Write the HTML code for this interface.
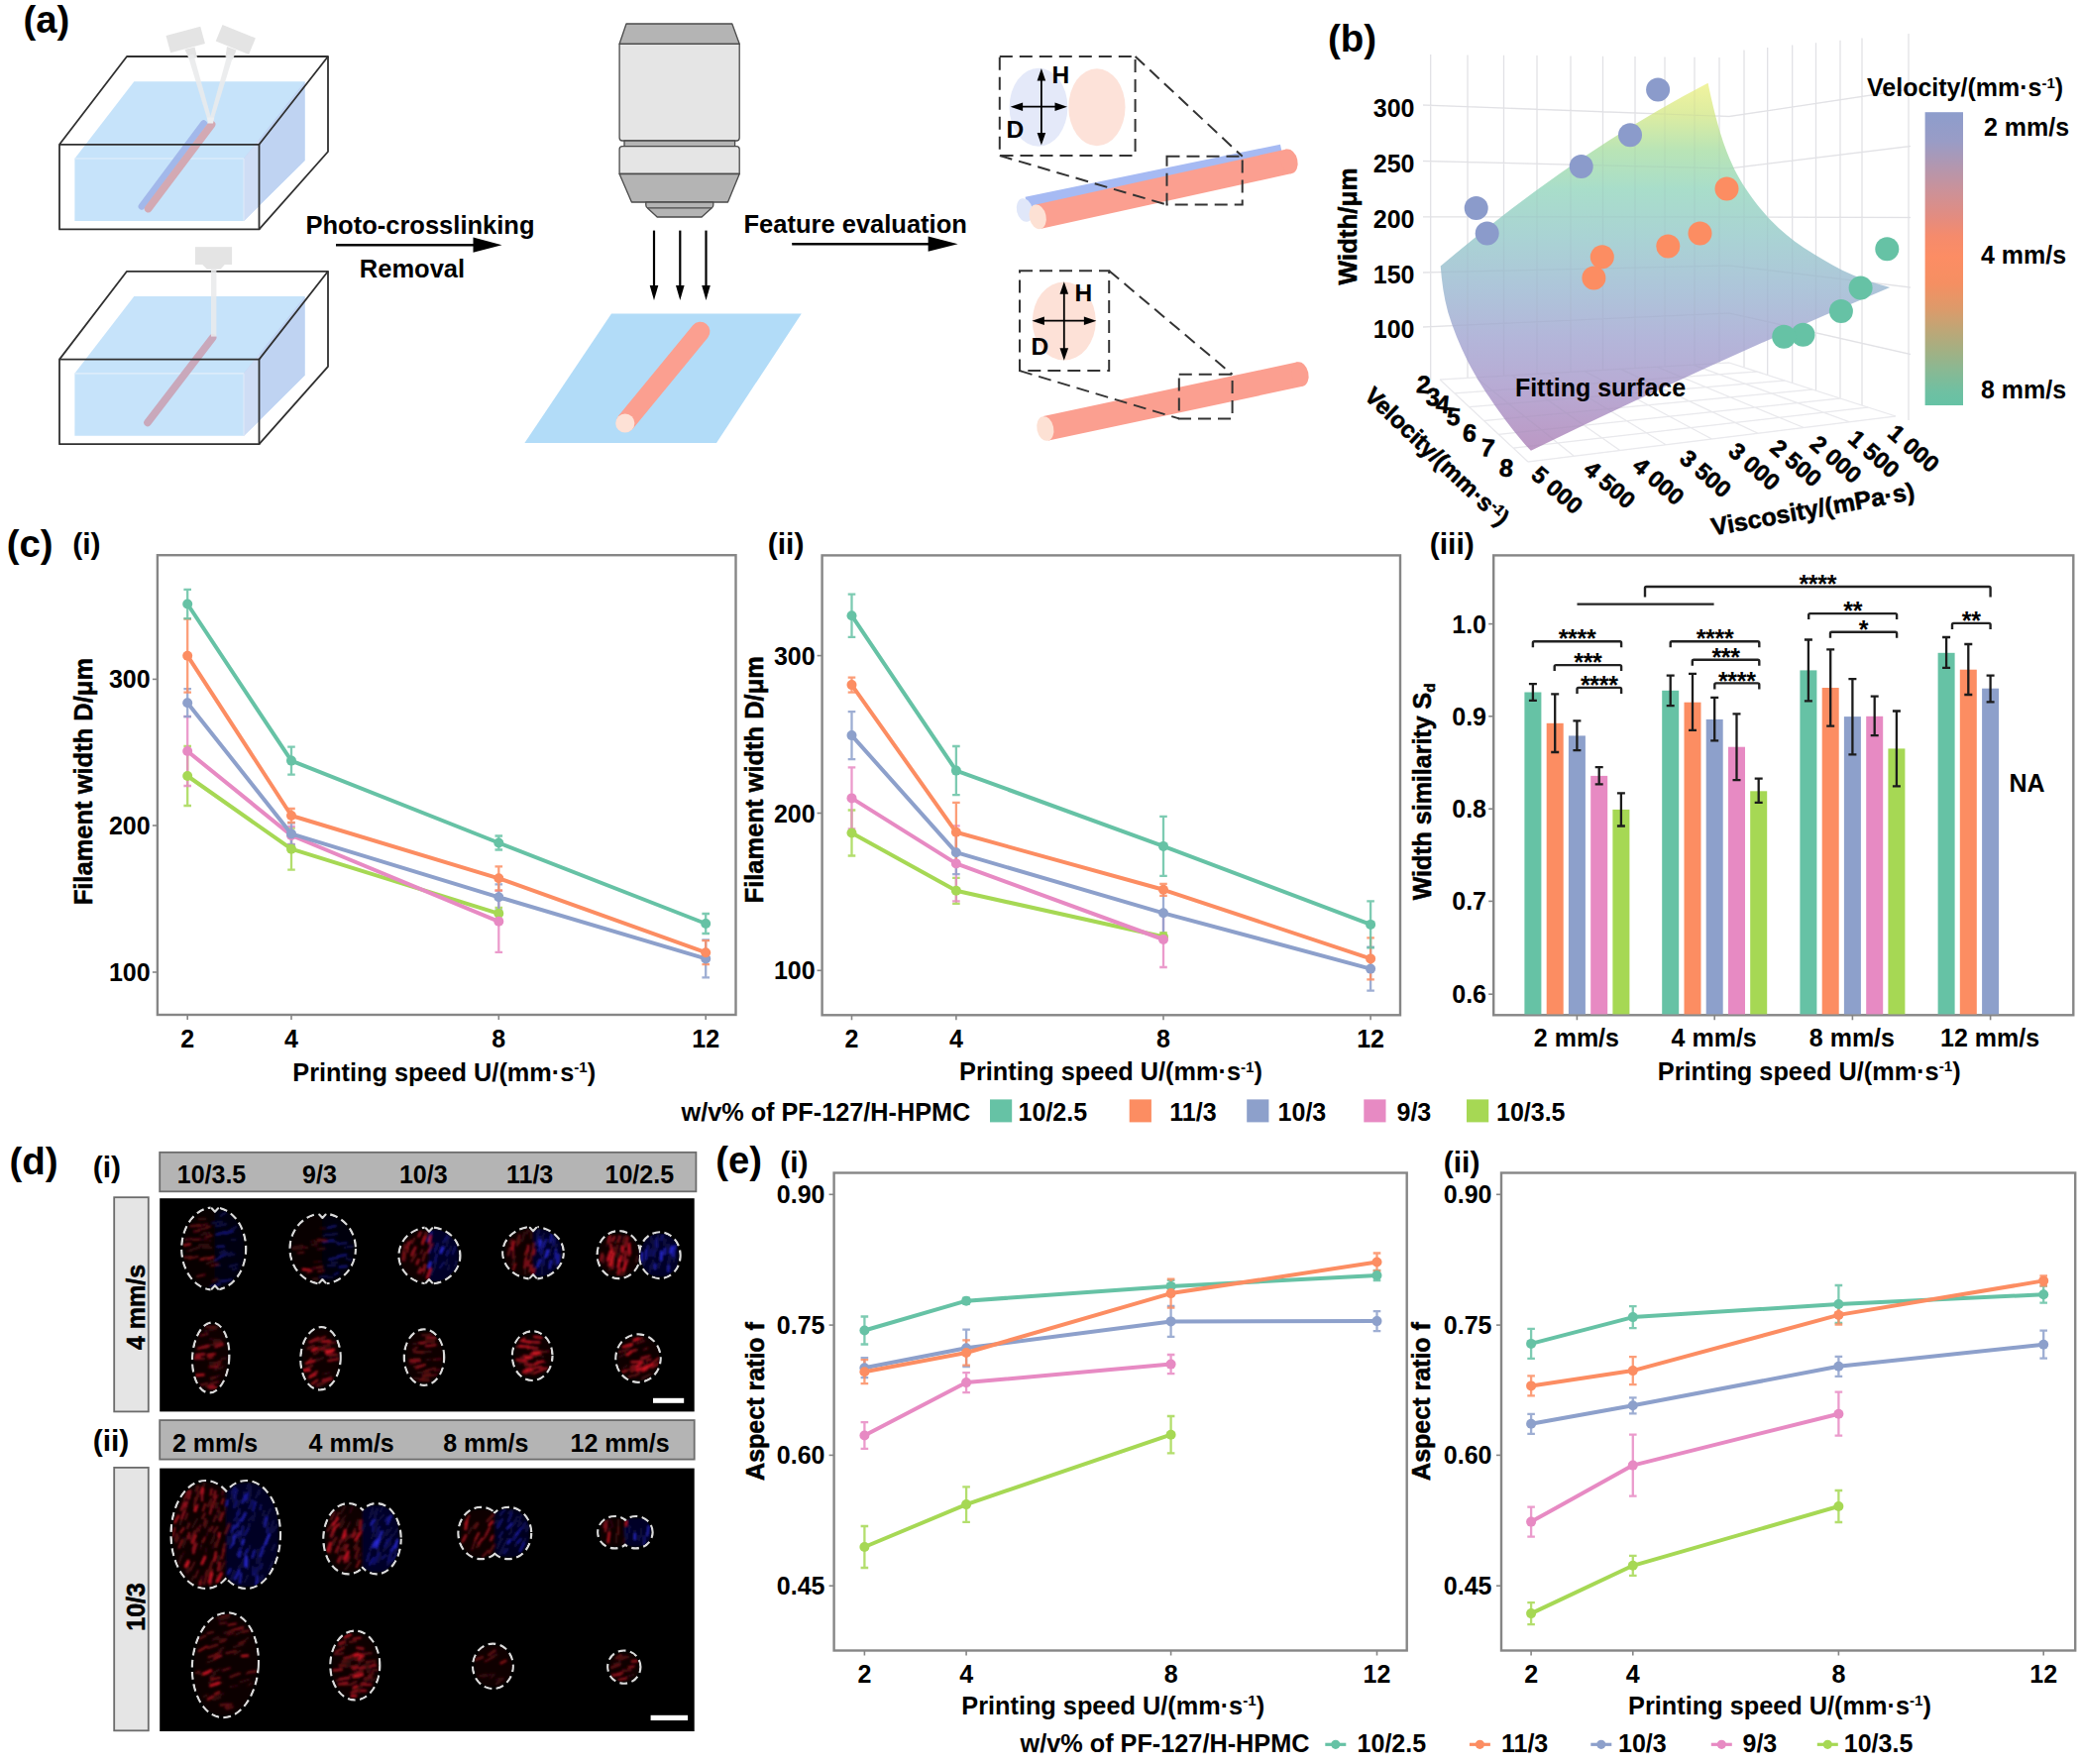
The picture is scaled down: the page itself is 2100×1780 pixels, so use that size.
<!DOCTYPE html>
<html><head><meta charset="utf-8"><title>Figure</title>
<style>
html,body{margin:0;padding:0;background:#fff}
svg{display:block}
text{font-family:"Liberation Sans",sans-serif;font-weight:bold;fill:#000}
</style></head><body>
<svg width="2100" height="1780" viewBox="0 0 2100 1780">
<rect width="2100" height="1780" fill="#fff"/>
<g id="panel-a">
<text x="23.4" y="32.8" font-size="38.3" text-anchor="start" >(a)</text>
<g transform="translate(0 0)">
<polygon points="75.4,160 135.3,82.3 307.6,82.3 307.6,162 246,223 75.4,223" fill="#c6e3fa"/>
<polygon points="246,160 307.6,82.3 307.6,162 246,223" fill="#bfd3f2"/>
<polygon points="246,160 261.5,140.5 261.5,207.6 246,223" fill="#cfddf5"/>
<line x1="75.4" y1="160" x2="246" y2="160" stroke="#e3effa" stroke-width="1.2"/>
<line x1="246" y1="160" x2="246" y2="223" stroke="#dde9f8" stroke-width="1.2"/>
<line x1="205.6" y1="124.6" x2="143" y2="208.2" stroke="#a2b8ea" stroke-width="6.8" stroke-linecap="round"/>
<line x1="213.6" y1="125.6" x2="149.6" y2="210.6" stroke="#d3a9b3" stroke-width="7.6" stroke-linecap="round"/>
<g fill="none" stroke="#303030" stroke-width="1.8" stroke-linejoin="round">
<rect x="60" y="145.8" width="201.5" height="85.6"/>
<polyline points="60,145.8 128,57 331,57 261.5,145.8"/>
<polyline points="331,57 331,153 261.5,231.4"/>
</g>
<g fill="#e4e4e4">
<rect x="-18" y="-9" width="36" height="18" transform="translate(187.2 40) rotate(-15)"/>
<rect x="-18" y="-9" width="36" height="18" transform="translate(237.8 40) rotate(22)"/>
<polygon points="186.5,50 196.5,47.5 199,58 191,60"/>
<polygon points="229,47 238.5,50.5 235,60 227.5,57.5"/>
</g>
<polygon points="189.6,56 195.2,54.6 213.2,119.5 209.6,121.5" fill="#e9eaec" opacity="0.88"/>
<polygon points="229.6,54.6 235.4,56 215.2,121.5 211.8,119.5" fill="#e9eaec" opacity="0.88"/>
<polygon points="208.8,118.5 216.2,118.5 215,124.5 210,124.5" fill="#eceef0"/>
</g>
<g transform="translate(0 216.8)">
<polygon points="75.4,160 135.3,82.3 307.6,82.3 307.6,162 246,223 75.4,223" fill="#c6e3fa"/>
<polygon points="246,160 307.6,82.3 307.6,162 246,223" fill="#bfd3f2"/>
<polygon points="246,160 261.5,140.5 261.5,207.6 246,223" fill="#cfddf5"/>
<line x1="75.4" y1="160" x2="246" y2="160" stroke="#e3effa" stroke-width="1.2"/>
<line x1="246" y1="160" x2="246" y2="223" stroke="#dde9f8" stroke-width="1.2"/>
<line x1="214.6" y1="124" x2="149" y2="209.6" stroke="#c9a8bb" stroke-width="7.6" stroke-linecap="round"/>
<g fill="none" stroke="#303030" stroke-width="1.8" stroke-linejoin="round">
<rect x="60" y="145.8" width="201.5" height="85.6"/>
<polyline points="60,145.8 128,57 331,57 261.5,145.8"/>
<polyline points="331,57 331,153 261.5,231.4"/>
</g>
<g fill="#e4e4e4">
<rect x="196.9" y="32.4" width="37.2" height="17.8"/>
<polygon points="204,50 227,50 222.5,55 209,55"/>
</g>
<rect x="213" y="54.8" width="5.4" height="68" fill="#e9eaec" opacity="0.88"/>
</g>
<text x="424.0" y="235.6" font-size="25.5" text-anchor="middle" >Photo-crosslinking</text>
<text x="416.0" y="279.6" font-size="25.5" text-anchor="middle" >Removal</text>
<line x1="339" y1="247.2" x2="482" y2="247.2" stroke="#000" stroke-width="2.6"/>
<polygon points="477.5,239.6 506.5,247.2 477.5,254.8" fill="#000"/>
<g stroke="#4a4a4a" stroke-width="1.3" stroke-linejoin="round">
<polygon points="632,24 738.8,24 746.2,44.3 625.1,44.3" fill="#b4b4b4"/>
<path d="M625.1,44.3 H746.2 V139 Q746.2,142 743.2,142 H628.1 Q625.1,142 625.1,139 Z" fill="#e5e5e5"/>
<rect x="630" y="142" width="111.6" height="5.7" fill="#b4b4b4"/>
<path d="M628.1,147.7 H743.2 Q746.2,147.7 746.2,150.7 V175.5 H625.1 V150.7 Q625.1,147.7 628.1,147.7 Z" fill="#e5e5e5"/>
<polygon points="625.1,175.5 746.2,175.5 734.5,204 637.4,204" fill="#b4b4b4"/>
<path d="M651.8,204 H719.8 V207 Q719.8,209.5 717.5,210.5 L708.1,219 H663.2 L654,210.5 Q651.8,209.5 651.8,207 Z" fill="#b4b4b4"/>
<line x1="653" y1="209.8" x2="718.6" y2="209.8" fill="none"/>
</g>
<line x1="660" y1="232.6" x2="660" y2="292" stroke="#000" stroke-width="2.2"/>
<polygon points="655.7,288 664.3,288 660,303" fill="#000"/>
<line x1="686.3" y1="232.6" x2="686.3" y2="292" stroke="#000" stroke-width="2.2"/>
<polygon points="682.0,288 690.5999999999999,288 686.3,303" fill="#000"/>
<line x1="712.5" y1="232.6" x2="712.5" y2="292" stroke="#000" stroke-width="2.2"/>
<polygon points="708.2,288 716.8,288 712.5,303" fill="#000"/>
<polygon points="617,316.4 808.8,316.4 723,447 529.4,447" fill="#b2dcf8"/>
<line x1="706.7" y1="334.5" x2="631.5" y2="426" stroke="#fb9f90" stroke-width="19.5" stroke-linecap="round"/>
<circle cx="630.8" cy="427" r="9.6" fill="#fde1d6"/>
<text x="863.2" y="234.6" font-size="25.5" text-anchor="middle" >Feature evaluation</text>
<line x1="799.2" y1="246.2" x2="941" y2="246.2" stroke="#000" stroke-width="2.6"/>
<polygon points="936.6,238.6 966.6,246.2 936.6,253.8" fill="#000"/>
<ellipse cx="1048" cy="108.2" rx="29.4" ry="39.5" fill="#e4e9f9"/>
<ellipse cx="1106.9" cy="108.2" rx="28.6" ry="39" fill="#fde2d9"/>
<line x1="1050.9" y1="79.0" x2="1050.9" y2="136.6" stroke="#000" stroke-width="1.8"/>
<polygon points="1050.9,69.0 1046.6,81.5 1055.2,81.5" fill="#000"/>
<polygon points="1050.9,146.6 1046.6,134.1 1055.2,134.1" fill="#000"/>
<line x1="1029.6" y1="107.7" x2="1067.0" y2="107.7" stroke="#000" stroke-width="1.8"/>
<polygon points="1019.6,107.7 1032.1,112.0 1032.1,103.4" fill="#000"/>
<polygon points="1077.0,107.7 1064.5,112.0 1064.5,103.4" fill="#000"/>
<text x="1061.4" y="84.2" font-size="24.5" text-anchor="start" >H</text>
<text x="1015.6" y="139.0" font-size="24.5" text-anchor="start" >D</text>
<line x1="1037" y1="210.5" x2="1294.4" y2="157.4" stroke="#a6baf3" stroke-width="24" stroke-linecap="butt"/>
<ellipse cx="1034" cy="212" rx="8" ry="12" fill="#e0e7f9" transform="rotate(-13 1034 212)"/>
<line x1="1048" y1="218.6" x2="1301" y2="162.8" stroke="#fb9f90" stroke-width="25" stroke-linecap="butt"/>
<ellipse cx="1301" cy="162.8" rx="8.4" ry="12.5" fill="#fb9f90" transform="rotate(-12.5 1301 162.8)"/>
<ellipse cx="1047.2" cy="218.8" rx="8.4" ry="12.5" fill="#fde1d4" transform="rotate(-12.5 1047.2 218.8)"/>
<rect x="1008.8" y="56.9" width="136.8" height="100.1" fill="none" stroke="#333" stroke-width="2" stroke-dasharray="13 7"/>
<rect x="1177.5" y="157.8" width="76.2" height="48.8" fill="none" stroke="#333" stroke-width="2" stroke-dasharray="13 7"/>
<line x1="1145.6" y1="56.9" x2="1253.7" y2="157.8" fill="none" stroke="#333" stroke-width="2" stroke-dasharray="13 7"/>
<line x1="1008.8" y1="157" x2="1177.5" y2="206.6" fill="none" stroke="#333" stroke-width="2" stroke-dasharray="13 7"/>
<ellipse cx="1073.8" cy="324" rx="32" ry="39.5" fill="#fde1d7"/>
<line x1="1073.8" y1="294.3" x2="1073.8" y2="353.7" stroke="#000" stroke-width="1.8"/>
<polygon points="1073.8,284.3 1069.5,296.8 1078.1,296.8" fill="#000"/>
<polygon points="1073.8,363.7 1069.5,351.2 1078.1,351.2" fill="#000"/>
<line x1="1051.4" y1="323.7" x2="1096.4" y2="323.7" stroke="#000" stroke-width="1.8"/>
<polygon points="1041.4,323.7 1053.9,328.0 1053.9,319.4" fill="#000"/>
<polygon points="1106.4,323.7 1093.9,328.0 1093.9,319.4" fill="#000"/>
<text x="1084.4" y="303.9" font-size="24.5" text-anchor="start" >H</text>
<text x="1040.6" y="357.8" font-size="24.5" text-anchor="start" >D</text>
<line x1="1055.5" y1="432.3" x2="1312" y2="377.6" stroke="#fb9f90" stroke-width="25" stroke-linecap="butt"/>
<ellipse cx="1312" cy="377.6" rx="8.4" ry="12.5" fill="#fb9f90" transform="rotate(-12 1312 377.6)"/>
<ellipse cx="1054.8" cy="432.5" rx="8.4" ry="12.5" fill="#fde1d4" transform="rotate(-12 1054.8 432.5)"/>
<rect x="1029" y="273.2" width="90.2" height="100.9" fill="none" stroke="#333" stroke-width="2" stroke-dasharray="13 7"/>
<rect x="1189.8" y="377.8" width="53.8" height="44.6" fill="none" stroke="#333" stroke-width="2" stroke-dasharray="13 7"/>
<line x1="1119.2" y1="273.2" x2="1243.6" y2="377.8" fill="none" stroke="#333" stroke-width="2" stroke-dasharray="13 7"/>
<line x1="1029" y1="374.1" x2="1189.8" y2="422.4" fill="none" stroke="#333" stroke-width="2" stroke-dasharray="13 7"/>
</g>
<g id="panel-b">
<text x="1340.0" y="51.8" font-size="38.5" text-anchor="start" >(b)</text>
<defs>
<linearGradient id="surfg" gradientUnits="userSpaceOnUse" x1="0" y1="83" x2="0" y2="456">
<stop offset="0" stop-color="#f1f39a"/>
<stop offset="0.085" stop-color="#dcec9d"/>
<stop offset="0.185" stop-color="#b6e3b3"/>
<stop offset="0.29" stop-color="#a5dcc8"/>
<stop offset="0.42" stop-color="#a6d1d2"/>
<stop offset="0.555" stop-color="#aac3d8"/>
<stop offset="0.69" stop-color="#b0b3d8"/>
<stop offset="0.825" stop-color="#b5a7d2"/>
<stop offset="1" stop-color="#b993c1"/>
</linearGradient>
<linearGradient id="cbar" x1="0" y1="0" x2="0" y2="1">
<stop offset="0" stop-color="#8d9dcc"/>
<stop offset="0.1" stop-color="#999cc6"/>
<stop offset="0.259" stop-color="#c9929b"/>
<stop offset="0.358" stop-color="#e38c80"/>
<stop offset="0.422" stop-color="#f58b6c"/>
<stop offset="0.493" stop-color="#fc8d64"/>
<stop offset="0.585" stop-color="#f58f62"/>
<stop offset="0.67" stop-color="#dd9a6a"/>
<stop offset="0.741" stop-color="#bfa676"/>
<stop offset="0.812" stop-color="#a3b083"/>
<stop offset="0.883" stop-color="#88b994"/>
<stop offset="0.954" stop-color="#6fc0a2"/>
<stop offset="1" stop-color="#66c2a5"/>
</linearGradient>
</defs>
<path d="M1443.7,55.0L1443.7,383.5M1481.0,55.4L1481.0,381.4M1517.5,55.7L1517.5,379.3M1551.0,56.1L1551.0,377.3M1585.0,56.4L1585.0,375.3M1617.5,56.7L1617.5,373.5M1650.0,57.1L1650.0,371.6M1680.0,57.4L1680.0,369.8M1710.0,57.7L1710.0,368.1M1735.0,57.9L1735.0,366.6M1760.0,50.5L1760.0,370.8M1783.7,48.1L1783.7,378.4M1808.7,45.6L1808.7,386.4M1832.5,43.2L1832.5,394.0M1857.0,40.8L1857.0,401.8M1879.0,38.6L1879.0,408.9M1926.0,33.9L1926.0,423.9M1436.0,106.0L1745.0,117.5M1745.0,117.5L1928.0,90.0M1436.0,162.5L1745.0,170.0M1745.0,170.0L1928.0,147.5M1436.0,218.8L1745.0,219.0M1745.0,219.0L1928.0,219.5M1436.0,275.0L1745.0,268.0M1745.0,268.0L1928.0,290.0M1436.0,330.0L1745.0,316.0M1745.0,316.0L1928.0,357.5" fill="none" stroke="#ebebed" stroke-width="1.3"/>
<path d="M1453.0,383.0L1745.0,366.0M1467.8,396.8L1773.0,375.0M1482.7,410.7L1801.0,384.0M1497.5,424.5L1829.0,393.0M1512.3,438.3L1857.0,402.0M1527.2,452.2L1885.0,411.0M1542.0,466.0L1913.0,420.0M1542.0,466.0L1453.0,383.0M1588.4,460.2L1489.5,380.9M1634.8,454.5L1526.0,378.8M1681.1,448.8L1562.5,376.6M1727.5,443.0L1599.0,374.5M1773.9,437.2L1635.5,372.4M1820.2,431.5L1672.0,370.2M1866.6,425.8L1708.5,368.1M1913.0,420.0L1745.0,366.0" fill="none" stroke="#f3f3f5" stroke-width="1.3"/>
<path d="M1453.7,268.6 Q1588.7,153.7 1723.6,83.7 C1727,100 1733,128 1742.3,152.4 C1750,172 1756,182 1764.8,194.9 C1774,208 1783,219 1794.8,229.9 C1806,240 1818,249 1832.3,257.4 C1844,264.5 1856,271.5 1869.8,277.4 C1882,282.5 1894,286.5 1907.2,289.9 Q1726.1,366.3 1544.9,454.8 C1533,442 1522,428 1512.5,414.8 C1500,397 1490,382 1481.2,364.8 C1473,348 1466,331 1461.2,314.9 C1457,300 1455,285 1453.7,268.6 Z" fill="url(#surfg)" opacity="0.96"/>
<path d="M1443.7,55.0L1443.7,383.5M1481.0,55.4L1481.0,381.4M1517.5,55.7L1517.5,379.3M1551.0,56.1L1551.0,377.3M1585.0,56.4L1585.0,375.3M1617.5,56.7L1617.5,373.5M1650.0,57.1L1650.0,371.6M1680.0,57.4L1680.0,369.8M1710.0,57.7L1710.0,368.1M1735.0,57.9L1735.0,366.6M1760.0,50.5L1760.0,370.8M1783.7,48.1L1783.7,378.4M1808.7,45.6L1808.7,386.4M1832.5,43.2L1832.5,394.0M1857.0,40.8L1857.0,401.8M1879.0,38.6L1879.0,408.9M1926.0,33.9L1926.0,423.9M1436.0,106.0L1745.0,117.5M1745.0,117.5L1928.0,90.0M1436.0,162.5L1745.0,170.0M1745.0,170.0L1928.0,147.5M1436.0,218.8L1745.0,219.0M1745.0,219.0L1928.0,219.5M1436.0,275.0L1745.0,268.0M1745.0,268.0L1928.0,290.0M1436.0,330.0L1745.0,316.0M1745.0,316.0L1928.0,357.5M1453.0,383.0L1745.0,366.0M1467.8,396.8L1773.0,375.0M1482.7,410.7L1801.0,384.0M1497.5,424.5L1829.0,393.0M1512.3,438.3L1857.0,402.0M1527.2,452.2L1885.0,411.0M1542.0,466.0L1913.0,420.0M1542.0,466.0L1453.0,383.0M1588.4,460.2L1489.5,380.9M1634.8,454.5L1526.0,378.8M1681.1,448.8L1562.5,376.6M1727.5,443.0L1599.0,374.5M1773.9,437.2L1635.5,372.4M1820.2,431.5L1672.0,370.2M1866.6,425.8L1708.5,368.1M1913.0,420.0L1745.0,366.0" fill="none" stroke="#8088a0" stroke-width="1.2" opacity="0.09"/>
<circle cx="1673.1" cy="90.6" r="12" fill="#8b9bcb"/>
<circle cx="1645" cy="136.2" r="12" fill="#8b9bcb"/>
<circle cx="1595.7" cy="168" r="12" fill="#8b9bcb"/>
<circle cx="1489.7" cy="210" r="12" fill="#8b9bcb"/>
<circle cx="1500.7" cy="235.6" r="12" fill="#8b9bcb"/>
<circle cx="1742.5" cy="190.6" r="12" fill="#fc8d62"/>
<circle cx="1715.5" cy="235.6" r="12" fill="#fc8d62"/>
<circle cx="1683.3" cy="248.4" r="12" fill="#fc8d62"/>
<circle cx="1616.8" cy="259.3" r="12" fill="#fc8d62"/>
<circle cx="1608.4" cy="280.5" r="12" fill="#fc8d62"/>
<circle cx="1904.3" cy="251.3" r="12" fill="#66c2a5"/>
<circle cx="1877.6" cy="290.4" r="12" fill="#66c2a5"/>
<circle cx="1857.9" cy="314.1" r="12" fill="#66c2a5"/>
<circle cx="1819.5" cy="337.8" r="12" fill="#66c2a5"/>
<circle cx="1800.2" cy="339.7" r="12" fill="#66c2a5"/>
<text x="1427.5" y="117.8" font-size="25" text-anchor="end" >300</text>
<text x="1427.5" y="174.4" font-size="25" text-anchor="end" >250</text>
<text x="1427.5" y="230.0" font-size="25" text-anchor="end" >200</text>
<text x="1427.5" y="285.5" font-size="25" text-anchor="end" >150</text>
<text x="1427.5" y="341.4" font-size="25" text-anchor="end" >100</text>
<text transform="translate(1369.0 228.5) rotate(-90)" font-size="26" text-anchor="middle" stroke="#000" stroke-width="0.55" stroke-linejoin="round" >Width/μm</text>
<text x="1615.0" y="400.4" font-size="25" text-anchor="middle" >Fitting surface</text>
<text transform="translate(1436.5 387.7) rotate(6)" font-size="25" text-anchor="middle" dy="9" stroke="#000" stroke-width="0.55" stroke-linejoin="round">2</text>
<text transform="translate(1446 400.2) rotate(6)" font-size="25" text-anchor="middle" dy="9" stroke="#000" stroke-width="0.55" stroke-linejoin="round">3</text>
<text transform="translate(1456 407.5) rotate(6)" font-size="25" text-anchor="middle" dy="9" stroke="#000" stroke-width="0.55" stroke-linejoin="round">4</text>
<text transform="translate(1466.8 420) rotate(6)" font-size="25" text-anchor="middle" dy="9" stroke="#000" stroke-width="0.55" stroke-linejoin="round">5</text>
<text transform="translate(1483 436.5) rotate(6)" font-size="25" text-anchor="middle" dy="9" stroke="#000" stroke-width="0.55" stroke-linejoin="round">6</text>
<text transform="translate(1501.4 451.5) rotate(6)" font-size="25" text-anchor="middle" dy="9" stroke="#000" stroke-width="0.55" stroke-linejoin="round">7</text>
<text transform="translate(1520 471.8) rotate(6)" font-size="25" text-anchor="middle" dy="9" stroke="#000" stroke-width="0.55" stroke-linejoin="round">8</text>
<text transform="translate(1375.5 401) rotate(43.5)" font-size="24" stroke="#000" stroke-width="0.55" stroke-linejoin="round">Velocity/(mm·s<tspan font-size="60%" dy="-0.55em">-1</tspan><tspan dy="0.33em">)</tspan></text>
<text transform="translate(1571.6 494.2) rotate(41)" font-size="23.6" text-anchor="middle" dy="8.5" stroke="#000" stroke-width="0.55" stroke-linejoin="round">5 000</text>
<text transform="translate(1624.6 488.8) rotate(41)" font-size="23.6" text-anchor="middle" dy="8.5" stroke="#000" stroke-width="0.55" stroke-linejoin="round">4 500</text>
<text transform="translate(1673.9 485.2) rotate(41)" font-size="23.6" text-anchor="middle" dy="8.5" stroke="#000" stroke-width="0.55" stroke-linejoin="round">4 000</text>
<text transform="translate(1721.4 477.8) rotate(41)" font-size="23.6" text-anchor="middle" dy="8.5" stroke="#000" stroke-width="0.55" stroke-linejoin="round">3 500</text>
<text transform="translate(1770.6 470.5) rotate(41)" font-size="23.6" text-anchor="middle" dy="8.5" stroke="#000" stroke-width="0.55" stroke-linejoin="round">3 000</text>
<text transform="translate(1812.6 466.9) rotate(41)" font-size="23.6" text-anchor="middle" dy="8.5" stroke="#000" stroke-width="0.55" stroke-linejoin="round">2 500</text>
<text transform="translate(1852.9 463.2) rotate(41)" font-size="23.6" text-anchor="middle" dy="8.5" stroke="#000" stroke-width="0.55" stroke-linejoin="round">2 000</text>
<text transform="translate(1891.3 457.7) rotate(41)" font-size="23.6" text-anchor="middle" dy="8.5" stroke="#000" stroke-width="0.55" stroke-linejoin="round">1 500</text>
<text transform="translate(1931.4 452.2) rotate(41)" font-size="23.6" text-anchor="middle" dy="8.5" stroke="#000" stroke-width="0.55" stroke-linejoin="round">1 000</text>
<text transform="translate(1728.5 540.5) rotate(-10.2)" font-size="25" stroke="#000" stroke-width="0.55" stroke-linejoin="round">Viscosity/(mPa·s)</text>
<rect x="1942.6" y="113.2" width="38.4" height="295.8" fill="url(#cbar)"/>
<text x="1884" y="96.8" font-size="25">Velocity/(mm·s<tspan font-size="60%" dy="-0.55em">-1</tspan><tspan dy="0.33em">)</tspan></text>
<text x="2002.0" y="136.6" font-size="25" text-anchor="start" >2 mm/s</text>
<text x="1999.0" y="265.6" font-size="25" text-anchor="start" >4 mm/s</text>
<text x="1999.0" y="401.7" font-size="25" text-anchor="start" >8 mm/s</text>
</g>
<g id="panel-c">
<text x="6.7" y="562.2" font-size="38.3" text-anchor="start" >(c)</text>
<text x="73.2" y="559.2" font-size="30" text-anchor="start" >(i)</text>
<text x="774.8" y="559.2" font-size="30" text-anchor="start" >(ii)</text>
<text x="1442.8" y="559.2" font-size="30" text-anchor="start" >(iii)</text>
<rect x="158.9" y="560.2" width="583.6" height="463.8" fill="#fff" stroke="#868686" stroke-width="2.4"/>
<line x1="189.2" y1="1024" x2="189.2" y2="1029" stroke="#868686" stroke-width="1.6"/>
<text x="189.2" y="1057.0" font-size="25" text-anchor="middle" >2</text>
<line x1="294" y1="1024" x2="294" y2="1029" stroke="#868686" stroke-width="1.6"/>
<text x="294.0" y="1057.0" font-size="25" text-anchor="middle" >4</text>
<line x1="503.3" y1="1024" x2="503.3" y2="1029" stroke="#868686" stroke-width="1.6"/>
<text x="503.3" y="1057.0" font-size="25" text-anchor="middle" >8</text>
<line x1="712.2" y1="1024" x2="712.2" y2="1029" stroke="#868686" stroke-width="1.6"/>
<text x="712.2" y="1057.0" font-size="25" text-anchor="middle" >12</text>
<line x1="153.9" y1="685.4" x2="158.9" y2="685.4" stroke="#868686" stroke-width="1.6"/>
<text x="151.6" y="694.4" font-size="25" text-anchor="end" >300</text>
<line x1="153.9" y1="833" x2="158.9" y2="833" stroke="#868686" stroke-width="1.6"/>
<text x="151.6" y="842.0" font-size="25" text-anchor="end" >200</text>
<line x1="153.9" y1="981" x2="158.9" y2="981" stroke="#868686" stroke-width="1.6"/>
<text x="151.6" y="990.0" font-size="25" text-anchor="end" >100</text>
<path d="M189.2,753.0V813.0M185.39999999999998,753.0H193.0M185.39999999999998,813.0H193.0M294,835.7V877.7M290.2,835.7H297.8M290.2,877.7H297.8M503.3,915.8V927.8M499.5,915.8H507.1M499.5,927.8H507.1" fill="none" stroke="#a6d854" stroke-width="2.3" opacity="0.85"/>
<path d="M189.2,723.0V793.0M185.39999999999998,723.0H193.0M185.39999999999998,793.0H193.0M294,834.0V852.0M290.2,834.0H297.8M290.2,852.0H297.8M503.3,898.8V960.8M499.5,898.8H507.1M499.5,960.8H507.1" fill="none" stroke="#e78ac3" stroke-width="2.3" opacity="0.85"/>
<path d="M189.2,695.2V723.2M185.39999999999998,695.2H193.0M185.39999999999998,723.2H193.0M294,830.4V852.4M290.2,830.4H297.8M290.2,852.4H297.8M503.3,892.3V918.3M499.5,892.3H507.1M499.5,918.3H507.1M712.2,948.4V986.4M708.4000000000001,948.4H716.0M708.4000000000001,986.4H716.0" fill="none" stroke="#8da0cb" stroke-width="2.3" opacity="0.85"/>
<path d="M189.2,624.7V698.7M185.39999999999998,624.7H193.0M185.39999999999998,698.7H193.0M294,816.0V830.0M290.2,816.0H297.8M290.2,830.0H297.8M503.3,874.3V898.3M499.5,874.3H507.1M499.5,898.3H507.1M712.2,949.2V973.2M708.4000000000001,949.2H716.0M708.4000000000001,973.2H716.0" fill="none" stroke="#fc8d62" stroke-width="2.3" opacity="0.85"/>
<path d="M189.2,594.9V624.1M185.39999999999998,594.9H193.0M185.39999999999998,624.1H193.0M294,753.6V781.6M290.2,753.6H297.8M290.2,781.6H297.8M503.3,843.5V857.5M499.5,843.5H507.1M499.5,857.5H507.1M712.2,922.0V942.0M708.4000000000001,922.0H716.0M708.4000000000001,942.0H716.0" fill="none" stroke="#66c2a5" stroke-width="2.3" opacity="0.85"/>
<polyline points="189.2,783.0 294,856.7 503.3,921.8" fill="none" stroke="#a6d854" stroke-width="4" stroke-linejoin="round"/>
<circle cx="189.2" cy="783.0" r="5" fill="#a6d854"/>
<circle cx="294" cy="856.7" r="5" fill="#a6d854"/>
<circle cx="503.3" cy="921.8" r="5" fill="#a6d854"/>
<polyline points="189.2,758.0 294,843.0 503.3,929.8" fill="none" stroke="#e78ac3" stroke-width="4" stroke-linejoin="round"/>
<circle cx="189.2" cy="758.0" r="5" fill="#e78ac3"/>
<circle cx="294" cy="843.0" r="5" fill="#e78ac3"/>
<circle cx="503.3" cy="929.8" r="5" fill="#e78ac3"/>
<polyline points="189.2,709.2 294,841.4 503.3,905.3 712.2,967.4" fill="none" stroke="#8da0cb" stroke-width="4" stroke-linejoin="round"/>
<circle cx="189.2" cy="709.2" r="5" fill="#8da0cb"/>
<circle cx="294" cy="841.4" r="5" fill="#8da0cb"/>
<circle cx="503.3" cy="905.3" r="5" fill="#8da0cb"/>
<circle cx="712.2" cy="967.4" r="5" fill="#8da0cb"/>
<polyline points="189.2,661.7 294,823.0 503.3,886.3 712.2,961.2" fill="none" stroke="#fc8d62" stroke-width="4" stroke-linejoin="round"/>
<circle cx="189.2" cy="661.7" r="5" fill="#fc8d62"/>
<circle cx="294" cy="823.0" r="5" fill="#fc8d62"/>
<circle cx="503.3" cy="886.3" r="5" fill="#fc8d62"/>
<circle cx="712.2" cy="961.2" r="5" fill="#fc8d62"/>
<polyline points="189.2,609.5 294,767.6 503.3,850.5 712.2,932.0" fill="none" stroke="#66c2a5" stroke-width="4" stroke-linejoin="round"/>
<circle cx="189.2" cy="609.5" r="5" fill="#66c2a5"/>
<circle cx="294" cy="767.6" r="5" fill="#66c2a5"/>
<circle cx="503.3" cy="850.5" r="5" fill="#66c2a5"/>
<circle cx="712.2" cy="932.0" r="5" fill="#66c2a5"/>
<text x="448.3" y="1090.5" font-size="25.3" text-anchor="middle">Printing speed U/(mm·s<tspan font-size="60%" dy="-0.55em">-1</tspan><tspan dy="0.33em">)</tspan></text>
<text transform="translate(92.8 788.6) rotate(-90)" font-size="25.5" text-anchor="middle" stroke="#000" stroke-width="0.55" stroke-linejoin="round" >Filament width D/μm</text>
<rect x="829.6" y="560.4" width="583.4" height="463.9" fill="#fff" stroke="#868686" stroke-width="2.4"/>
<line x1="859.5" y1="1024.3" x2="859.5" y2="1029.3" stroke="#868686" stroke-width="1.6"/>
<text x="859.5" y="1057.0" font-size="25" text-anchor="middle" >2</text>
<line x1="964.9" y1="1024.3" x2="964.9" y2="1029.3" stroke="#868686" stroke-width="1.6"/>
<text x="964.9" y="1057.0" font-size="25" text-anchor="middle" >4</text>
<line x1="1174" y1="1024.3" x2="1174" y2="1029.3" stroke="#868686" stroke-width="1.6"/>
<text x="1174.0" y="1057.0" font-size="25" text-anchor="middle" >8</text>
<line x1="1383.1" y1="1024.3" x2="1383.1" y2="1029.3" stroke="#868686" stroke-width="1.6"/>
<text x="1383.1" y="1057.0" font-size="25" text-anchor="middle" >12</text>
<line x1="824.6" y1="661.6" x2="829.6" y2="661.6" stroke="#868686" stroke-width="1.6"/>
<text x="822.6" y="670.6" font-size="25" text-anchor="end" >300</text>
<line x1="824.6" y1="820.5" x2="829.6" y2="820.5" stroke="#868686" stroke-width="1.6"/>
<text x="822.6" y="829.5" font-size="25" text-anchor="end" >200</text>
<line x1="824.6" y1="979.3" x2="829.6" y2="979.3" stroke="#868686" stroke-width="1.6"/>
<text x="822.6" y="988.3" font-size="25" text-anchor="end" >100</text>
<path d="M859.5,817.5V863.5M855.7,817.5H863.3M855.7,863.5H863.3M964.9,885.8V911.8M961.1,885.8H968.6999999999999M961.1,911.8H968.6999999999999M1174,941.2V949.2M1170.2,941.2H1177.8M1170.2,949.2H1177.8" fill="none" stroke="#a6d854" stroke-width="2.3" opacity="0.85"/>
<path d="M859.5,774.4V836.4M855.7,774.4H863.3M855.7,836.4H863.3M964.9,833.4V909.4M961.1,833.4H968.6999999999999M961.1,909.4H968.6999999999999M1174,920.0V976.0M1170.2,920.0H1177.8M1170.2,976.0H1177.8" fill="none" stroke="#e78ac3" stroke-width="2.3" opacity="0.85"/>
<path d="M859.5,718.1V766.1M855.7,718.1H863.3M855.7,766.1H863.3M964.9,838.2V882.2M961.1,838.2H968.6999999999999M961.1,882.2H968.6999999999999M1174,899.3V943.3M1170.2,899.3H1177.8M1170.2,943.3H1177.8M1383.1,955.6V999.6M1379.3,955.6H1386.8999999999999M1379.3,999.6H1386.8999999999999" fill="none" stroke="#8da0cb" stroke-width="2.3" opacity="0.85"/>
<path d="M859.5,683.6V698.6M855.7,683.6H863.3M855.7,698.6H863.3M964.9,809.8V869.8M961.1,809.8H968.6999999999999M961.1,869.8H968.6999999999999M1174,891.8V903.8M1170.2,891.8H1177.8M1170.2,903.8H1177.8M1383.1,946.4V988.4M1379.3,946.4H1386.8999999999999M1379.3,988.4H1386.8999999999999" fill="none" stroke="#fc8d62" stroke-width="2.3" opacity="0.85"/>
<path d="M859.5,599.6V642.8M855.7,599.6H863.3M855.7,642.8H863.3M964.9,753.0V802.2M961.1,753.0H968.6999999999999M961.1,802.2H968.6999999999999M1174,823.9V883.9M1170.2,823.9H1177.8M1170.2,883.9H1177.8M1383.1,909.4V956.4M1379.3,909.4H1386.8999999999999M1379.3,956.4H1386.8999999999999" fill="none" stroke="#66c2a5" stroke-width="2.3" opacity="0.85"/>
<polyline points="859.5,840.5 964.9,898.8 1174,945.2" fill="none" stroke="#a6d854" stroke-width="4" stroke-linejoin="round"/>
<circle cx="859.5" cy="840.5" r="5" fill="#a6d854"/>
<circle cx="964.9" cy="898.8" r="5" fill="#a6d854"/>
<circle cx="1174" cy="945.2" r="5" fill="#a6d854"/>
<polyline points="859.5,805.4 964.9,871.4 1174,948.0" fill="none" stroke="#e78ac3" stroke-width="4" stroke-linejoin="round"/>
<circle cx="859.5" cy="805.4" r="5" fill="#e78ac3"/>
<circle cx="964.9" cy="871.4" r="5" fill="#e78ac3"/>
<circle cx="1174" cy="948.0" r="5" fill="#e78ac3"/>
<polyline points="859.5,742.1 964.9,860.2 1174,921.3 1383.1,977.6" fill="none" stroke="#8da0cb" stroke-width="4" stroke-linejoin="round"/>
<circle cx="859.5" cy="742.1" r="5" fill="#8da0cb"/>
<circle cx="964.9" cy="860.2" r="5" fill="#8da0cb"/>
<circle cx="1174" cy="921.3" r="5" fill="#8da0cb"/>
<circle cx="1383.1" cy="977.6" r="5" fill="#8da0cb"/>
<polyline points="859.5,691.1 964.9,839.8 1174,897.8 1383.1,967.4" fill="none" stroke="#fc8d62" stroke-width="4" stroke-linejoin="round"/>
<circle cx="859.5" cy="691.1" r="5" fill="#fc8d62"/>
<circle cx="964.9" cy="839.8" r="5" fill="#fc8d62"/>
<circle cx="1174" cy="897.8" r="5" fill="#fc8d62"/>
<circle cx="1383.1" cy="967.4" r="5" fill="#fc8d62"/>
<polyline points="859.5,621.2 964.9,777.6 1174,853.9 1383.1,932.9" fill="none" stroke="#66c2a5" stroke-width="4" stroke-linejoin="round"/>
<circle cx="859.5" cy="621.2" r="5" fill="#66c2a5"/>
<circle cx="964.9" cy="777.6" r="5" fill="#66c2a5"/>
<circle cx="1174" cy="853.9" r="5" fill="#66c2a5"/>
<circle cx="1383.1" cy="932.9" r="5" fill="#66c2a5"/>
<text x="1121" y="1090" font-size="25.3" text-anchor="middle">Printing speed U/(mm·s<tspan font-size="60%" dy="-0.55em">-1</tspan><tspan dy="0.33em">)</tspan></text>
<text transform="translate(769.6 786.7) rotate(-90)" font-size="25.5" text-anchor="middle" stroke="#000" stroke-width="0.55" stroke-linejoin="round" >Filament width D/μm</text>
<rect x="1507.2" y="560.4" width="585.1" height="463.9" fill="#fff" stroke="#868686" stroke-width="2.4"/>
<line x1="1502.2" y1="629.6" x2="1507.2" y2="629.6" stroke="#868686" stroke-width="1.6"/>
<text x="1500.0" y="638.6" font-size="25" text-anchor="end" >1.0</text>
<line x1="1502.2" y1="722.8" x2="1507.2" y2="722.8" stroke="#868686" stroke-width="1.6"/>
<text x="1500.0" y="731.8" font-size="25" text-anchor="end" >0.9</text>
<line x1="1502.2" y1="816.2" x2="1507.2" y2="816.2" stroke="#868686" stroke-width="1.6"/>
<text x="1500.0" y="825.2" font-size="25" text-anchor="end" >0.8</text>
<line x1="1502.2" y1="909.4" x2="1507.2" y2="909.4" stroke="#868686" stroke-width="1.6"/>
<text x="1500.0" y="918.4" font-size="25" text-anchor="end" >0.7</text>
<line x1="1502.2" y1="1003.2" x2="1507.2" y2="1003.2" stroke="#868686" stroke-width="1.6"/>
<text x="1500.0" y="1012.2" font-size="25" text-anchor="end" >0.6</text>
<line x1="1591.4" y1="1024.3" x2="1591.4" y2="1029.3" stroke="#868686" stroke-width="1.6"/>
<text x="1590.9" y="1056.0" font-size="25" text-anchor="middle" >2 mm/s</text>
<rect x="1538.4" y="698.5" width="17" height="324.9" fill="#66c2a5"/>
<rect x="1560.7" y="729.8" width="17" height="293.6" fill="#fc8d62"/>
<rect x="1582.9" y="742.4" width="17" height="281.0" fill="#8da0cb"/>
<rect x="1605.2" y="782.9" width="17" height="240.5" fill="#e78ac3"/>
<rect x="1627.4" y="816.9" width="17" height="206.5" fill="#a6d854"/>
<path d="M1546.9,690.1V706.9M1542.9,690.1H1550.9M1542.9,706.9H1550.9M1569.2,700.3V759.0M1565.2,700.3H1573.2M1565.2,759.0H1573.2M1591.4,727.3V757.2M1587.4,727.3H1595.4M1587.4,757.2H1595.4M1613.7,774.1V791.3M1609.7,774.1H1617.7M1609.7,791.3H1617.7M1635.9,800.4V833.5M1631.9,800.4H1639.9M1631.9,833.5H1639.9" fill="none" stroke="#1c1c1c" stroke-width="2.3"/>
<line x1="1730.2" y1="1024.3" x2="1730.2" y2="1029.3" stroke="#868686" stroke-width="1.6"/>
<text x="1729.7" y="1056.0" font-size="25" text-anchor="middle" >4 mm/s</text>
<rect x="1677.2" y="696.8" width="17" height="326.6" fill="#66c2a5"/>
<rect x="1699.5" y="708.7" width="17" height="314.7" fill="#fc8d62"/>
<rect x="1721.7" y="725.9" width="17" height="297.5" fill="#8da0cb"/>
<rect x="1744.0" y="753.7" width="17" height="269.7" fill="#e78ac3"/>
<rect x="1766.2" y="798.3" width="17" height="225.1" fill="#a6d854"/>
<path d="M1685.7,681.6V712.2M1681.7,681.6H1689.7M1681.7,712.2H1689.7M1708.0,679.9V736.8M1704.0,679.9H1712.0M1704.0,736.8H1712.0M1730.2,703.8V747.4M1726.2,703.8H1734.2M1726.2,747.4H1734.2M1752.5,720.3V787.1M1748.5,720.3H1756.5M1748.5,787.1H1756.5M1774.7,785.7V809.9M1770.7,785.7H1778.7M1770.7,809.9H1778.7" fill="none" stroke="#1c1c1c" stroke-width="2.3"/>
<line x1="1869.4" y1="1024.3" x2="1869.4" y2="1029.3" stroke="#868686" stroke-width="1.6"/>
<text x="1868.9" y="1056.0" font-size="25" text-anchor="middle" >8 mm/s</text>
<rect x="1816.4" y="676.4" width="17" height="347.0" fill="#66c2a5"/>
<rect x="1838.7" y="694" width="17" height="329.4" fill="#fc8d62"/>
<rect x="1860.9" y="723.1" width="17" height="300.3" fill="#8da0cb"/>
<rect x="1883.2" y="722.8" width="17" height="300.6" fill="#e78ac3"/>
<rect x="1905.4" y="755.4" width="17" height="268.0" fill="#a6d854"/>
<path d="M1824.9,645.5V707.3M1820.9,645.5H1828.9M1820.9,707.3H1828.9M1847.2,655.3V732.6M1843.2,655.3H1851.2M1843.2,732.6H1851.2M1869.4,685.2V761.4M1865.4,685.2H1873.4M1865.4,761.4H1873.4M1891.7,702.7V742.1M1887.7,702.7H1895.7M1887.7,742.1H1895.7M1913.9,717.5V793.4M1909.9,717.5H1917.9M1909.9,793.4H1917.9" fill="none" stroke="#1c1c1c" stroke-width="2.3"/>
<line x1="2008.6" y1="1024.3" x2="2008.6" y2="1029.3" stroke="#868686" stroke-width="1.6"/>
<text x="2008.1" y="1056.0" font-size="25" text-anchor="middle" >12 mm/s</text>
<rect x="1955.6" y="658.8" width="17" height="364.6" fill="#66c2a5"/>
<rect x="1977.8" y="675.7" width="17" height="347.7" fill="#fc8d62"/>
<rect x="2000.1" y="694.7" width="17" height="328.7" fill="#8da0cb"/>
<path d="M1964.1,643.0V673.9M1960.1,643.0H1968.1M1960.1,673.9H1968.1M1986.3,650.0V701.0M1982.3,650.0H1990.3M1982.3,701.0H1990.3M2008.6,681.6V708.4M2004.6,681.6H2012.6M2004.6,708.4H2012.6" fill="none" stroke="#1c1c1c" stroke-width="2.3"/>
<path d="M1660.0,602.5V593.5Q1660.0,592.0 1661.5,592.0H2007.1Q2008.6,592.0 2008.6,593.5V602.5" fill="none" stroke="#222" stroke-width="2.4"/>
<text x="1834.3" y="598.2" font-size="25" text-anchor="middle" letter-spacing="-0.3">****</text>
<path d="M1591.5,609.6H1729.6" fill="none" stroke="#222" stroke-width="2.4"/>
<path d="M1546.9,653.2V648.7Q1546.9,647.2 1548.4,647.2H1634.6Q1636.1,647.2 1636.1,648.7V653.2" fill="none" stroke="#222" stroke-width="2.4"/>
<text x="1591.5" y="653.4" font-size="25" text-anchor="middle" letter-spacing="-0.3">****</text>
<path d="M1568.7,677.1V672.6Q1568.7,671.1 1570.2,671.1H1634.6Q1636.1,671.1 1636.1,672.6V677.1" fill="none" stroke="#222" stroke-width="2.4"/>
<text x="1602.4" y="677.3" font-size="25" text-anchor="middle" letter-spacing="-0.3">***</text>
<path d="M1591.5,699.9V695.4Q1591.5,693.9 1593.0,693.9H1634.6Q1636.1,693.9 1636.1,695.4V699.9" fill="none" stroke="#222" stroke-width="2.4"/>
<text x="1613.8" y="700.1" font-size="25" text-anchor="middle" letter-spacing="-0.3">****</text>
<path d="M1685.7,653.2V648.7Q1685.7,647.2 1687.2,647.2H1773.8Q1775.3,647.2 1775.3,648.7V653.2" fill="none" stroke="#222" stroke-width="2.4"/>
<text x="1730.5" y="653.4" font-size="25" text-anchor="middle" letter-spacing="-0.3">****</text>
<path d="M1707.8,671.8V667.3Q1707.8,665.8 1709.3,665.8H1773.8Q1775.3,665.8 1775.3,667.3V671.8" fill="none" stroke="#222" stroke-width="2.4"/>
<text x="1741.6" y="672.0" font-size="25" text-anchor="middle" letter-spacing="-0.3">***</text>
<path d="M1730.3,695.4V690.9Q1730.3,689.4 1731.8,689.4H1773.8Q1775.3,689.4 1775.3,690.9V695.4" fill="none" stroke="#222" stroke-width="2.4"/>
<text x="1752.8" y="695.6" font-size="25" text-anchor="middle" letter-spacing="-0.3">****</text>
<path d="M1825.2,625.1V620.6Q1825.2,619.1 1826.7,619.1H1912.6Q1914.1,619.1 1914.1,620.6V625.1" fill="none" stroke="#222" stroke-width="2.4"/>
<text x="1869.7" y="625.3" font-size="25" text-anchor="middle" letter-spacing="-0.3">**</text>
<path d="M1847.0,643.7V639.2Q1847.0,637.7 1848.5,637.7H1912.6Q1914.1,637.7 1914.1,639.2V643.7" fill="none" stroke="#222" stroke-width="2.4"/>
<text x="1880.5" y="643.9" font-size="25" text-anchor="middle" letter-spacing="-0.3">*</text>
<path d="M1970.0,634.9V630.4Q1970.0,628.9 1971.5,628.9H2007.1Q2008.6,628.9 2008.6,630.4V634.9" fill="none" stroke="#222" stroke-width="2.4"/>
<text x="1989.3" y="635.1" font-size="25" text-anchor="middle" letter-spacing="-0.3">**</text>
<text x="2027.5" y="799.4" font-size="25" text-anchor="start" >NA</text>
<text x="1825.7" y="1089.5" font-size="25.3" text-anchor="middle">Printing speed U/(mm·s<tspan font-size="60%" dy="-0.55em">-1</tspan><tspan dy="0.33em">)</tspan></text>
<text transform="translate(1443.5 799) rotate(-90)" font-size="25" text-anchor="middle" stroke="#000" stroke-width="0.55" stroke-linejoin="round">Width similarity S<tspan font-size="60%" dy="0.3em">d</tspan></text>
<text x="687.5" y="1130.6" font-size="25.25" text-anchor="start" >w/v% of PF-127/H-HPMC</text>
<rect x="999" y="1109.4" width="22.2" height="23" fill="#66c2a5"/>
<text x="1027.6" y="1130.6" font-size="25" text-anchor="start" >10/2.5</text>
<rect x="1139.7" y="1109.4" width="22.2" height="23" fill="#fc8d62"/>
<text x="1180.3" y="1130.6" font-size="25" text-anchor="start" >11/3</text>
<rect x="1258.2" y="1109.4" width="22.2" height="23" fill="#8da0cb"/>
<text x="1289.6" y="1130.6" font-size="25" text-anchor="start" >10/3</text>
<rect x="1376.3" y="1109.4" width="22.2" height="23" fill="#e78ac3"/>
<text x="1409.5" y="1130.6" font-size="25" text-anchor="start" >9/3</text>
<rect x="1480" y="1109.4" width="22.2" height="23" fill="#a6d854"/>
<text x="1510.0" y="1130.6" font-size="25" text-anchor="start" >10/3.5</text>
</g>
<g id="panel-d">
<text x="9.4" y="1184.8" font-size="38.5" text-anchor="start" >(d)</text>
<text x="93.7" y="1187.8" font-size="30" text-anchor="start" >(i)</text>
<text x="93.7" y="1464.3" font-size="30" text-anchor="start" >(ii)</text>
<defs><filter id="bl" x="-10%" y="-10%" width="120%" height="120%"><feGaussianBlur stdDeviation="0.8"/></filter></defs>
<rect x="161.2" y="1162.8" width="541.2" height="39.5" fill="#b4b4b4" stroke="#6c6c6c" stroke-width="1.8"/>
<text x="213.5" y="1193.6" font-size="25" text-anchor="middle" >10/3.5</text>
<text x="322.5" y="1193.6" font-size="25" text-anchor="middle" >9/3</text>
<text x="427.3" y="1193.6" font-size="25" text-anchor="middle" >10/3</text>
<text x="534.6" y="1193.6" font-size="25" text-anchor="middle" >11/3</text>
<text x="645.3" y="1193.6" font-size="25" text-anchor="middle" >10/2.5</text>
<rect x="115.2" y="1208.2" width="34.6" height="216.2" fill="#e5e5e5" stroke="#6c6c6c" stroke-width="1.8"/>
<text transform="translate(145.6 1318.9) rotate(-90)" font-size="25" text-anchor="middle" stroke="#000" stroke-width="0.55" stroke-linejoin="round" >4 mm/s</text>
<rect x="161.2" y="1209.2" width="539.5" height="215.2" fill="#000"/>
<ellipse cx="215.7" cy="1260" rx="32.4" ry="41.6" transform="rotate(0 215.7 1260)" fill="none" stroke="#dadada" stroke-width="2.4" stroke-dasharray="7.8 4.4" stroke-dashoffset="2"/>
<clipPath id="cs1"><ellipse cx="215.7" cy="1260" rx="31.3" ry="40.5" transform="rotate(0 215.7 1260)"/></clipPath>
<g clip-path="url(#cs1)">
<rect x="182.2" y="1217.3" width="67.0" height="85.4" fill="#000"/>
<g filter="url(#bl)">
<rect x="185.2" y="1220.3" width="31.7" height="79.4" fill="#2a0709" opacity="0.22"/>
<rect x="216.9" y="1220.3" width="29.3" height="79.4" fill="#0a0a50" opacity="0.20"/>
<path d="M200.8,1230.3l6.2,-0.2M203.5,1270.4l5.0,-1.9M208.9,1275.0l9.0,-3.4M192.2,1261.4l8.6,-2.7M201.2,1256.6l9.4,-0.3M214.2,1292.8l4.5,-2.0" stroke="#360a0d" stroke-width="2.5" stroke-linecap="round" fill="none"/>
<path d="M231.8,1278.0l7.2,-1.9M230.6,1266.9l5.7,-1.3M222.7,1226.7l5.2,-3.2M230.5,1242.6l7.8,-4.4M218.1,1237.2l9.8,-1.9M223.5,1264.1l5.3,-0.4M221.0,1292.4l6.3,0.1" stroke="#0c0c46" stroke-width="2.5" stroke-linecap="round" fill="none"/>
<path d="M195.8,1237.8l3.8,-1.2M205.2,1244.3l6.6,-0.1M204.4,1258.7l9.0,0.4" stroke="#360a0d" stroke-width="2.1" stroke-linecap="round" fill="none"/>
<path d="M233.5,1250.9l4.4,-0.1M227.5,1266.1l6.6,-2.6M218.3,1277.2l4.3,-0.2M221.8,1263.8l5.1,-2.3" stroke="#0c0c46" stroke-width="1.7" stroke-linecap="round" fill="none"/>
<path d="M235.1,1281.2l3.9,-1.5M214.4,1234.1l9.5,-1.3" stroke="#0c0c46" stroke-width="2.1" stroke-linecap="round" fill="none"/>
<path d="M204.6,1251.1l8.3,0.9M188.6,1262.7l4.6,-0.9M202.1,1246.4l9.1,-2.1" stroke="#360a0d" stroke-width="1.7" stroke-linecap="round" fill="none"/>
<path d="M208.1,1238.1l4.3,-0.5M200.4,1240.8l9.5,-1.8M199.5,1237.6l9.6,-2.4M187.0,1250.8l6.6,-0.7M213.0,1277.3l7.0,-1.7" stroke="#5e0c13" stroke-width="1.7" stroke-linecap="round" fill="none"/>
<path d="M221.9,1267.8l5.2,-1.3M227.2,1244.9l8.0,-2.3M219.1,1258.0l6.9,-0.4M213.1,1298.4l8.8,-2.8" stroke="#131372" stroke-width="2.1" stroke-linecap="round" fill="none"/>
<path d="M199.2,1287.9l7.3,-1.7M195.1,1250.9l7.3,-0.4M185.9,1268.9l7.4,-0.6M190.9,1270.0l8.6,-2.0M192.3,1237.4l9.3,-1.4M207.2,1248.8l6.4,-2.0M196.0,1242.6l4.9,-0.6" stroke="#5e0c13" stroke-width="2.1" stroke-linecap="round" fill="none"/>
<path d="M217.0,1271.7l6.0,-3.1M224.3,1293.2l9.4,-2.1" stroke="#131372" stroke-width="1.7" stroke-linecap="round" fill="none"/>
<path d="M218.7,1245.8l8.8,-2.5" stroke="#131372" stroke-width="2.5" stroke-linecap="round" fill="none"/>
<path d="M209.4,1270.2l5.8,-1.8" stroke="#8e101a" stroke-width="2.1" stroke-linecap="round" fill="none"/>
<path d="M185.8,1256.4l5.9,-1.0" stroke="#8e101a" stroke-width="2.5" stroke-linecap="round" fill="none"/>
<path d="M202.2,1270.8l4.4,-0.5" stroke="#8e101a" stroke-width="1.7" stroke-linecap="round" fill="none"/>
</g></g>
<rect x="212.5" y="1215.4" width="8.8" height="6" fill="#000"/>
<path d="M213.7,1219.3L216.9,1222.8L220.1,1219.3" fill="none" stroke="#d8d8d8" stroke-width="2.1" stroke-linejoin="round" stroke-linecap="round"/>
<rect x="212.5" y="1298.6" width="8.8" height="6" fill="#000"/>
<path d="M213.7,1300.7L216.9,1297.2L220.1,1300.7" fill="none" stroke="#d8d8d8" stroke-width="2.1" stroke-linejoin="round" stroke-linecap="round"/>
<ellipse cx="325.7" cy="1260" rx="33.1" ry="35.4" transform="rotate(0 325.7 1260)" fill="none" stroke="#dadada" stroke-width="2.4" stroke-dasharray="7.8 4.4" stroke-dashoffset="2"/>
<clipPath id="cs2"><ellipse cx="325.7" cy="1260" rx="32.0" ry="34.3" transform="rotate(0 325.7 1260)"/></clipPath>
<g clip-path="url(#cs2)">
<rect x="291.5" y="1223.5" width="68.4" height="73.0" fill="#000"/>
<g filter="url(#bl)">
<rect x="294.5" y="1226.5" width="30.9" height="67.0" fill="#2a0709" opacity="0.20"/>
<rect x="325.4" y="1226.5" width="31.5" height="67.0" fill="#0a0a50" opacity="0.16"/>
<path d="M320.5,1260.6l7.0,-0.7M314.5,1256.3l5.5,0.3M317.6,1254.2l4.2,-1.0M295.5,1260.4l9.2,-0.4" stroke="#360a0d" stroke-width="2.1" stroke-linecap="round" fill="none"/>
<path d="M330.9,1277.1l7.0,-0.1M331.6,1246.3l8.1,-1.2" stroke="#0c0c46" stroke-width="2.5" stroke-linecap="round" fill="none"/>
<path d="M327.4,1288.6l8.2,0.1" stroke="#0c0c46" stroke-width="1.7" stroke-linecap="round" fill="none"/>
<path d="M334.6,1273.9l5.7,0.3M326.9,1246.8l4.3,-1.2M322.9,1288.6l6.9,-0.7M334.9,1252.5l6.4,1.2M347.9,1258.7l8.2,-1.1M349.4,1270.1l5.2,1.4" stroke="#0c0c46" stroke-width="2.1" stroke-linecap="round" fill="none"/>
<path d="M315.8,1290.7l4.4,-0.5M319.6,1279.3l5.5,-1.7M295.4,1259.0l9.6,-2.1" stroke="#360a0d" stroke-width="2.5" stroke-linecap="round" fill="none"/>
<path d="M313.8,1253.0l6.3,-1.7M323.1,1239.5l4.8,0.2M315.6,1290.8l5.5,0.7M316.8,1273.6l7.0,-0.5" stroke="#360a0d" stroke-width="1.7" stroke-linecap="round" fill="none"/>
<path d="M326.8,1253.2l9.6,-1.8M341.0,1267.8l8.2,-1.6M342.5,1278.5l7.2,-0.8" stroke="#131372" stroke-width="2.5" stroke-linecap="round" fill="none"/>
<path d="M321.2,1282.9l5.3,-0.6M310.4,1284.4l4.9,-2.0" stroke="#5e0c13" stroke-width="2.1" stroke-linecap="round" fill="none"/>
<path d="M321.3,1250.9l8.0,1.0" stroke="#5e0c13" stroke-width="2.5" stroke-linecap="round" fill="none"/>
<path d="M330.8,1239.0l7.9,-2.0M332.0,1270.9l9.6,-2.1" stroke="#131372" stroke-width="2.1" stroke-linecap="round" fill="none"/>
<path d="M340.6,1255.3l9.2,-1.2M337.4,1286.3l4.0,-2.0" stroke="#131372" stroke-width="1.7" stroke-linecap="round" fill="none"/>
<path d="M305.5,1258.5l4.7,0.5M300.4,1264.5l6.1,-0.9M315.7,1279.7l9.8,-0.8" stroke="#5e0c13" stroke-width="1.7" stroke-linecap="round" fill="none"/>
<path d="M305.7,1280.9l7.2,0.6" stroke="#c81422" stroke-width="2.1" stroke-linecap="round" fill="none"/>
</g></g>
<rect x="321.0" y="1221.6" width="8.8" height="6" fill="#000"/>
<path d="M322.2,1225.5L325.4,1229.0L328.6,1225.5" fill="none" stroke="#d8d8d8" stroke-width="2.1" stroke-linejoin="round" stroke-linecap="round"/>
<rect x="321.0" y="1292.4" width="8.8" height="6" fill="#000"/>
<path d="M322.2,1294.5L325.4,1291.0L328.6,1294.5" fill="none" stroke="#d8d8d8" stroke-width="2.1" stroke-linejoin="round" stroke-linecap="round"/>
<ellipse cx="433.4" cy="1266.9" rx="30.9" ry="28.5" transform="rotate(0 433.4 1266.9)" fill="none" stroke="#dadada" stroke-width="2.4" stroke-dasharray="7.8 4.4" stroke-dashoffset="2"/>
<clipPath id="cs3"><ellipse cx="433.4" cy="1266.9" rx="29.8" ry="27.4" transform="rotate(0 433.4 1266.9)"/></clipPath>
<g clip-path="url(#cs3)">
<rect x="401.4" y="1237.3" width="64.0" height="59.2" fill="#000"/>
<g filter="url(#bl)">
<rect x="404.4" y="1240.3" width="28.6" height="53.2" fill="#2a0709" opacity="0.40"/>
<rect x="433.0" y="1240.3" width="29.4" height="53.2" fill="#0a0a50" opacity="0.50"/>
<path d="M443.4,1261.7l1.1,-3.9M435.6,1286.2l3.3,-7.9M450.1,1276.1l1.6,-5.7M439.5,1270.4l0.8,-4.9" stroke="#0c0c46" stroke-width="1.7" stroke-linecap="round" fill="none"/>
<path d="M426.6,1287.2l2.3,-3.6M428.3,1283.9l2.1,-7.4" stroke="#360a0d" stroke-width="1.7" stroke-linecap="round" fill="none"/>
<path d="M459.4,1276.8l1.2,-4.0M450.6,1257.4l1.4,-5.4M452.4,1265.1l2.9,-7.2M452.2,1281.3l0.9,-4.3" stroke="#0c0c46" stroke-width="2.1" stroke-linecap="round" fill="none"/>
<path d="M406.2,1269.8l2.8,-6.0M411.8,1260.3l1.2,-4.9" stroke="#360a0d" stroke-width="2.1" stroke-linecap="round" fill="none"/>
<path d="M438.9,1276.5l1.3,-5.1M450.5,1252.7l2.4,-4.5" stroke="#0c0c46" stroke-width="2.5" stroke-linecap="round" fill="none"/>
<path d="M430.4,1251.6l1.0,-9.4" stroke="#360a0d" stroke-width="2.5" stroke-linecap="round" fill="none"/>
<path d="M438.7,1262.8l3.0,-7.9M433.7,1263.9l0.9,-6.8M438.8,1273.5l1.9,-7.2M450.8,1266.7l1.1,-4.6" stroke="#131372" stroke-width="2.1" stroke-linecap="round" fill="none"/>
<path d="M415.9,1254.5l2.7,-5.3M408.4,1272.4l0.8,-7.3M424.5,1265.2l1.8,-4.1" stroke="#5e0c13" stroke-width="1.7" stroke-linecap="round" fill="none"/>
<path d="M415.4,1265.8l1.7,-4.0M426.7,1271.8l2.3,-7.6" stroke="#5e0c13" stroke-width="2.5" stroke-linecap="round" fill="none"/>
<path d="M433.2,1252.0l2.0,-8.4M431.4,1252.3l4.5,-8.9" stroke="#131372" stroke-width="2.5" stroke-linecap="round" fill="none"/>
<path d="M456.6,1265.5l2.7,-7.4M447.2,1253.7l4.0,-6.6M443.7,1279.4l4.2,-5.4" stroke="#131372" stroke-width="1.7" stroke-linecap="round" fill="none"/>
<path d="M429.1,1248.8l0.1,-4.5M415.3,1272.6l4.5,-7.1M407.9,1261.0l0.7,-5.2M426.5,1255.9l1.2,-6.0M421.6,1284.2l2.5,-5.0" stroke="#5e0c13" stroke-width="2.1" stroke-linecap="round" fill="none"/>
<path d="M427.3,1282.6l1.4,-6.6M423.6,1284.5l1.8,-3.9" stroke="#8e101a" stroke-width="2.1" stroke-linecap="round" fill="none"/>
<path d="M415.7,1266.8l3.5,-8.1M420.7,1275.4l1.7,-4.2M422.6,1247.6l1.7,-3.9" stroke="#8e101a" stroke-width="2.5" stroke-linecap="round" fill="none"/>
<path d="M411.1,1263.5l0.7,-9.8M431.2,1264.0l4.9,-8.7M410.0,1259.1l5.1,-7.0M406.4,1272.0l1.0,-9.4" stroke="#8e101a" stroke-width="1.7" stroke-linecap="round" fill="none"/>
<path d="M433.2,1254.9l1.4,-7.8M426.2,1254.8l2.3,-6.9" stroke="#c81422" stroke-width="1.7" stroke-linecap="round" fill="none"/>
<path d="M444.7,1264.2l2.5,-5.3M432.9,1278.5l1.5,-4.5" stroke="#2828d2" stroke-width="2.5" stroke-linecap="round" fill="none"/>
<path d="M431.2,1289.5l3.2,-9.1" stroke="#c81422" stroke-width="2.1" stroke-linecap="round" fill="none"/>
</g></g>
<rect x="428.6" y="1235.4" width="8.8" height="6" fill="#000"/>
<path d="M429.8,1239.3L433.0,1242.8L436.2,1239.3" fill="none" stroke="#d8d8d8" stroke-width="2.1" stroke-linejoin="round" stroke-linecap="round"/>
<rect x="428.6" y="1292.4" width="8.8" height="6" fill="#000"/>
<path d="M429.8,1294.5L433.0,1291.0L436.2,1294.5" fill="none" stroke="#d8d8d8" stroke-width="2.1" stroke-linejoin="round" stroke-linecap="round"/>
<ellipse cx="538" cy="1264.2" rx="30.7" ry="26.3" transform="rotate(0 538 1264.2)" fill="none" stroke="#dadada" stroke-width="2.4" stroke-dasharray="7.8 4.4" stroke-dashoffset="2"/>
<clipPath id="cs4"><ellipse cx="538" cy="1264.2" rx="29.6" ry="25.2" transform="rotate(0 538 1264.2)"/></clipPath>
<g clip-path="url(#cs4)">
<rect x="506.2" y="1236.8" width="63.6" height="54.8" fill="#000"/>
<g filter="url(#bl)">
<rect x="509.2" y="1239.8" width="28.8" height="48.8" fill="#2a0709" opacity="0.40"/>
<rect x="538.0" y="1239.8" width="28.8" height="48.8" fill="#0a0a50" opacity="0.50"/>
<path d="M553.9,1278.5l0.7,-5.4M541.4,1279.6l1.5,-7.3M542.1,1250.2l1.7,-9.5M554.7,1266.6l0.6,-5.9M542.4,1246.2l1.3,-5.0M563.8,1273.9l2.0,-7.4" stroke="#0c0c46" stroke-width="2.5" stroke-linecap="round" fill="none"/>
<path d="M522.7,1255.4l-0.3,-6.2M517.3,1276.3l2.4,-8.6M527.1,1252.0l2.1,-8.0M532.0,1244.4l0.8,-4.0" stroke="#360a0d" stroke-width="2.5" stroke-linecap="round" fill="none"/>
<path d="M547.3,1250.3l1.5,-5.6M557.0,1274.9l4.2,-6.7M546.5,1274.3l0.1,-6.5M557.1,1258.4l3.4,-6.8" stroke="#0c0c46" stroke-width="1.7" stroke-linecap="round" fill="none"/>
<path d="M559.2,1265.5l2.7,-9.5M546.7,1285.3l0.3,-7.3M559.8,1275.9l-0.5,-4.7M562.0,1277.6l0.7,-6.3" stroke="#0c0c46" stroke-width="2.1" stroke-linecap="round" fill="none"/>
<path d="M536.0,1249.3l-0.2,-9.2M530.0,1285.5l-0.7,-7.3" stroke="#360a0d" stroke-width="2.1" stroke-linecap="round" fill="none"/>
<path d="M545.7,1265.8l1.3,-5.6M540.6,1255.7l4.0,-7.9" stroke="#131372" stroke-width="2.1" stroke-linecap="round" fill="none"/>
<path d="M537.7,1260.3l0.8,-5.3M517.9,1269.1l0.1,-8.4M534.3,1283.0l1.3,-6.3M513.0,1266.3l1.9,-7.2" stroke="#5e0c13" stroke-width="2.5" stroke-linecap="round" fill="none"/>
<path d="M521.7,1257.2l0.5,-4.9M530.7,1270.8l1.8,-7.2" stroke="#5e0c13" stroke-width="1.7" stroke-linecap="round" fill="none"/>
<path d="M548.4,1276.5l0.7,-7.8M548.5,1258.3l-0.9,-5.6" stroke="#131372" stroke-width="1.7" stroke-linecap="round" fill="none"/>
<path d="M546.6,1264.9l0.8,-6.5M558.6,1256.1l0.4,-6.4" stroke="#131372" stroke-width="2.5" stroke-linecap="round" fill="none"/>
<path d="M524.0,1254.1l0.1,-7.8M515.5,1255.6l0.9,-4.4M535.2,1272.1l1.6,-8.9" stroke="#5e0c13" stroke-width="2.1" stroke-linecap="round" fill="none"/>
<path d="M537.2,1286.6l2.2,-6.3M536.5,1282.3l-0.0,-5.6M529.5,1279.0l1.2,-9.3" stroke="#8e101a" stroke-width="2.1" stroke-linecap="round" fill="none"/>
<path d="M517.8,1281.8l2.4,-6.5M530.0,1266.0l1.8,-4.6" stroke="#8e101a" stroke-width="1.7" stroke-linecap="round" fill="none"/>
<path d="M542.7,1277.9l2.6,-6.6M562.8,1274.5l0.1,-8.7" stroke="#1a1aa2" stroke-width="2.5" stroke-linecap="round" fill="none"/>
<path d="M543.4,1262.5l2.3,-7.1M560.2,1269.8l1.1,-9.2M548.4,1258.4l3.1,-8.0" stroke="#1a1aa2" stroke-width="1.7" stroke-linecap="round" fill="none"/>
<path d="M532.6,1262.5l0.5,-5.3M538.3,1265.4l0.8,-4.1M532.7,1277.1l0.6,-4.4" stroke="#8e101a" stroke-width="2.5" stroke-linecap="round" fill="none"/>
<path d="M555.2,1253.4l1.6,-8.0M554.8,1279.7l1.3,-7.7" stroke="#1a1aa2" stroke-width="2.1" stroke-linecap="round" fill="none"/>
<path d="M551.0,1268.0l1.7,-6.2M544.6,1256.6l0.7,-4.9" stroke="#2828d2" stroke-width="2.5" stroke-linecap="round" fill="none"/>
<path d="M516.8,1260.7l1.9,-8.2" stroke="#c81422" stroke-width="1.7" stroke-linecap="round" fill="none"/>
</g></g>
<rect x="533.6" y="1234.9" width="8.8" height="6" fill="#000"/>
<path d="M534.8,1238.8L538.0,1242.3L541.2,1238.8" fill="none" stroke="#d8d8d8" stroke-width="2.1" stroke-linejoin="round" stroke-linecap="round"/>
<rect x="533.6" y="1287.5" width="8.8" height="6" fill="#000"/>
<path d="M534.8,1289.6L538.0,1286.1L541.2,1289.6" fill="none" stroke="#d8d8d8" stroke-width="2.1" stroke-linejoin="round" stroke-linecap="round"/>
<ellipse cx="624.4" cy="1266.1" rx="21.7" ry="23.9" transform="rotate(0 624.4 1266.1)" fill="none" stroke="#dadada" stroke-width="2.4" stroke-dasharray="7.8 4.4" stroke-dashoffset="2"/>
<ellipse cx="665.8" cy="1266.7" rx="20.7" ry="23.3" transform="rotate(0 665.8 1266.7)" fill="none" stroke="#dadada" stroke-width="2.4" stroke-dasharray="7.8 4.4" stroke-dashoffset="2"/>
<clipPath id="cs5"><ellipse cx="624.4" cy="1266.1" rx="20.6" ry="22.8" transform="rotate(0 624.4 1266.1)"/><ellipse cx="665.8" cy="1266.7" rx="19.6" ry="22.2" transform="rotate(0 665.8 1266.7)"/></clipPath>
<g clip-path="url(#cs5)">
<rect x="601.6" y="1241.1" width="86.0" height="50.0" fill="#000"/>
<g filter="url(#bl)">
<rect x="604.6" y="1244.1" width="41.0" height="44.0" fill="#2a0709" opacity="0.40"/>
<rect x="645.6" y="1244.1" width="39.0" height="44.0" fill="#0a0a50" opacity="0.48"/>
<path d="M647.0,1271.3l2.2,-6.8M674.1,1263.8l1.2,-8.2M659.3,1260.3l1.0,-8.5M662.0,1255.5l2.6,-9.2M657.8,1254.5l-0.6,-6.7M667.5,1271.5l1.3,-7.0M672.0,1261.3l1.2,-5.3M664.6,1278.8l0.2,-4.2M673.2,1264.8l1.1,-6.8" stroke="#0c0c46" stroke-width="2.1" stroke-linecap="round" fill="none"/>
<path d="M642.0,1273.1l1.2,-5.0M622.2,1284.4l1.9,-4.8M629.8,1286.1l1.0,-8.5" stroke="#360a0d" stroke-width="2.5" stroke-linecap="round" fill="none"/>
<path d="M656.5,1284.2l-1.0,-7.5M654.7,1267.5l2.0,-7.5M679.9,1272.8l0.9,-5.7M664.8,1279.1l2.8,-8.1M660.5,1269.5l0.2,-8.2" stroke="#0c0c46" stroke-width="1.7" stroke-linecap="round" fill="none"/>
<path d="M675.8,1272.1l1.4,-5.5M674.5,1278.8l0.6,-6.1M658.9,1266.9l1.8,-6.2M677.5,1265.6l0.9,-7.0M649.2,1276.5l2.8,-7.6M662.6,1261.5l1.1,-5.5M670.1,1255.7l1.5,-5.0M657.3,1279.8l2.0,-7.5M674.3,1275.8l1.5,-8.6" stroke="#0c0c46" stroke-width="2.5" stroke-linecap="round" fill="none"/>
<path d="M617.1,1267.0l0.1,-6.6M620.6,1254.7l6.4,-7.1M612.4,1257.1l1.4,-7.6M633.7,1260.4l1.9,-6.4M624.9,1265.7l2.0,-8.9M615.3,1281.7l-0.6,-7.4M623.9,1271.2l0.3,-5.5" stroke="#360a0d" stroke-width="2.1" stroke-linecap="round" fill="none"/>
<path d="M619.2,1273.6l2.4,-7.9M628.8,1255.1l3.1,-9.0M628.8,1262.0l1.3,-9.2M619.9,1263.5l1.2,-5.3" stroke="#360a0d" stroke-width="1.7" stroke-linecap="round" fill="none"/>
<path d="M658.9,1267.0l2.0,-5.2" stroke="#131372" stroke-width="2.1" stroke-linecap="round" fill="none"/>
<path d="M652.0,1264.5l2.1,-7.1M667.4,1251.1l1.3,-4.2M662.3,1257.9l0.2,-7.5M663.6,1257.9l-0.8,-8.1" stroke="#131372" stroke-width="2.5" stroke-linecap="round" fill="none"/>
<path d="M613.5,1276.6l1.0,-7.0M628.6,1265.1l1.1,-8.0M628.8,1253.7l1.3,-5.2M608.6,1273.9l0.6,-6.6M627.4,1286.7l0.9,-6.9M618.2,1278.5l0.7,-4.6" stroke="#5e0c13" stroke-width="2.1" stroke-linecap="round" fill="none"/>
<path d="M680.1,1269.9l0.6,-5.7M655.3,1267.5l2.1,-6.3" stroke="#131372" stroke-width="1.7" stroke-linecap="round" fill="none"/>
<path d="M625.0,1276.7l-0.5,-8.2M618.4,1274.7l0.6,-7.1M621.6,1265.1l1.8,-9.1" stroke="#5e0c13" stroke-width="1.7" stroke-linecap="round" fill="none"/>
<path d="M618.4,1266.0l1.6,-7.2" stroke="#5e0c13" stroke-width="2.5" stroke-linecap="round" fill="none"/>
<path d="M617.8,1252.0l2.2,-3.7M613.4,1272.1l1.6,-4.7M630.7,1278.2l2.4,-6.7M614.2,1253.6l1.4,-6.3M629.9,1272.4l2.3,-9.6" stroke="#8e101a" stroke-width="2.5" stroke-linecap="round" fill="none"/>
<path d="M605.7,1272.1l2.0,-6.8M631.1,1257.9l2.3,-9.2M634.9,1266.9l0.2,-9.6M618.1,1279.9l0.2,-5.7" stroke="#8e101a" stroke-width="2.1" stroke-linecap="round" fill="none"/>
<path d="M624.2,1253.5l0.7,-6.2" stroke="#8e101a" stroke-width="1.7" stroke-linecap="round" fill="none"/>
<path d="M651.9,1270.3l0.2,-8.7" stroke="#1a1aa2" stroke-width="2.1" stroke-linecap="round" fill="none"/>
<path d="M670.6,1265.6l0.1,-5.4M678.9,1266.8l2.5,-9.7M661.0,1280.2l0.2,-4.3M674.3,1282.6l0.3,-5.1" stroke="#1a1aa2" stroke-width="2.5" stroke-linecap="round" fill="none"/>
<path d="M647.7,1272.3l-0.2,-8.3" stroke="#2828d2" stroke-width="1.7" stroke-linecap="round" fill="none"/>
<path d="M625.9,1272.7l1.3,-5.3M635.6,1264.6l-0.9,-9.4M628.4,1263.1l-0.2,-5.1M629.3,1281.9l1.8,-7.7" stroke="#c81422" stroke-width="2.1" stroke-linecap="round" fill="none"/>
<path d="M624.1,1285.9l1.5,-5.7M617.4,1263.5l-1.2,-8.1" stroke="#c81422" stroke-width="1.7" stroke-linecap="round" fill="none"/>
<path d="M613.4,1270.9l2.9,-8.2M623.9,1278.6l1.1,-7.2M615.8,1276.8l1.8,-5.8M616.5,1271.9l2.8,-7.2" stroke="#c81422" stroke-width="2.5" stroke-linecap="round" fill="none"/>
<path d="M667.0,1271.2l0.4,-8.1M676.6,1263.8l1.8,-5.7" stroke="#2828d2" stroke-width="2.5" stroke-linecap="round" fill="none"/>
</g></g>
<ellipse cx="212.7" cy="1370" rx="18.5" ry="35.4" transform="rotate(3 212.7 1370)" fill="none" stroke="#dadada" stroke-width="2.4" stroke-dasharray="7.8 4.4" stroke-dashoffset="2"/>
<clipPath id="cs6"><ellipse cx="212.7" cy="1370" rx="17.4" ry="34.3" transform="rotate(3 212.7 1370)"/></clipPath>
<g clip-path="url(#cs6)">
<rect x="193.1" y="1333.5" width="39.2" height="73.0" fill="#000"/>
<g filter="url(#bl)">
<rect x="196.1" y="1336.5" width="36.2" height="67.0" fill="#2a0709" opacity="0.32"/>
<path d="M216.4,1382.4l8.1,-2.4M205.1,1359.7l8.9,-3.0M211.0,1342.3l7.1,-1.3M202.3,1360.4l9.3,-1.9M211.9,1351.3l8.5,1.0M213.0,1392.3l8.2,-4.2" stroke="#360a0d" stroke-width="2.1" stroke-linecap="round" fill="none"/>
<path d="M223.6,1371.1l4.4,-0.6M216.0,1354.2l6.8,-1.7M209.6,1399.6l4.9,-0.9M214.3,1339.5l4.8,-0.4" stroke="#360a0d" stroke-width="2.5" stroke-linecap="round" fill="none"/>
<path d="M211.5,1374.8l4.7,-0.0M206.5,1343.4l9.2,-2.1M197.0,1366.9l7.3,-1.5M211.1,1377.5l9.0,-2.6M220.7,1381.2l5.4,-3.0M208.0,1366.5l5.7,-1.0M207.2,1399.2l6.9,-1.0M219.0,1357.4l4.9,0.2" stroke="#360a0d" stroke-width="1.7" stroke-linecap="round" fill="none"/>
<path d="M202.4,1347.8l7.1,-1.7M216.3,1376.4l6.6,-3.0M216.6,1379.7l6.0,-3.4M202.4,1397.8l6.7,-1.9" stroke="#5e0c13" stroke-width="2.1" stroke-linecap="round" fill="none"/>
<path d="M211.9,1396.2l6.9,-1.0M212.5,1390.5l5.3,-0.9M207.6,1338.7l9.2,0.4M212.6,1395.9l8.0,-1.7" stroke="#5e0c13" stroke-width="1.7" stroke-linecap="round" fill="none"/>
<path d="M199.4,1370.8l6.1,0.3M206.3,1359.9l3.9,-1.2M216.0,1356.4l7.7,-1.5" stroke="#5e0c13" stroke-width="2.5" stroke-linecap="round" fill="none"/>
<path d="M211.2,1379.5l8.2,-0.3M210.3,1370.5l4.4,-1.1" stroke="#8e101a" stroke-width="1.7" stroke-linecap="round" fill="none"/>
<path d="M197.9,1367.4l8.1,-0.9M212.1,1400.6l6.0,-0.3M196.5,1370.5l5.0,-0.8M210.2,1399.0l5.2,-0.4M200.3,1360.6l9.5,-2.7" stroke="#8e101a" stroke-width="2.5" stroke-linecap="round" fill="none"/>
<path d="M217.4,1359.3l7.5,-2.8" stroke="#8e101a" stroke-width="2.1" stroke-linecap="round" fill="none"/>
<path d="M198.2,1387.7l7.3,-0.4" stroke="#c81422" stroke-width="2.1" stroke-linecap="round" fill="none"/>
<path d="M209.8,1368.0l7.0,-1.8" stroke="#c81422" stroke-width="1.7" stroke-linecap="round" fill="none"/>
</g></g>
<ellipse cx="323.5" cy="1370.8" rx="20.1" ry="31.6" transform="rotate(2 323.5 1370.8)" fill="none" stroke="#dadada" stroke-width="2.4" stroke-dasharray="7.8 4.4" stroke-dashoffset="2"/>
<clipPath id="cs7"><ellipse cx="323.5" cy="1370.8" rx="19.0" ry="30.5" transform="rotate(2 323.5 1370.8)"/></clipPath>
<g clip-path="url(#cs7)">
<rect x="302.3" y="1338.1" width="42.4" height="65.4" fill="#000"/>
<g filter="url(#bl)">
<rect x="305.3" y="1341.1" width="39.4" height="59.4" fill="#2a0709" opacity="0.32"/>
<path d="M325.0,1362.7l8.5,-4.1M325.5,1393.3l8.5,-4.3M320.2,1372.9l5.8,-2.7" stroke="#360a0d" stroke-width="2.5" stroke-linecap="round" fill="none"/>
<path d="M326.3,1353.6l5.1,-1.7M321.5,1354.1l4.3,-1.7M332.6,1368.9l9.1,-1.5M322.7,1359.1l9.3,-2.0M329.8,1367.9l4.4,-2.6" stroke="#360a0d" stroke-width="2.1" stroke-linecap="round" fill="none"/>
<path d="M319.7,1399.8l5.6,-1.3M315.6,1361.6l7.1,-3.1M325.8,1386.7l6.9,-1.6M315.0,1373.4l5.8,-2.5M311.9,1361.4l5.8,-3.5" stroke="#360a0d" stroke-width="1.7" stroke-linecap="round" fill="none"/>
<path d="M312.6,1354.3l9.1,-2.6M310.9,1360.7l5.4,-2.5M329.0,1366.1l7.4,-3.0M309.4,1380.8l5.6,-3.0" stroke="#5e0c13" stroke-width="2.5" stroke-linecap="round" fill="none"/>
<path d="M326.9,1358.0l5.2,-0.8M331.1,1356.1l7.3,-1.7M326.0,1396.3l6.5,-4.1" stroke="#5e0c13" stroke-width="1.7" stroke-linecap="round" fill="none"/>
<path d="M319.1,1397.7l7.6,-2.7M316.9,1366.3l4.1,-2.2" stroke="#5e0c13" stroke-width="2.1" stroke-linecap="round" fill="none"/>
<path d="M312.9,1388.9l6.8,-4.7M325.9,1392.8l8.7,-1.3" stroke="#8e101a" stroke-width="2.5" stroke-linecap="round" fill="none"/>
<path d="M323.5,1350.9l4.7,-1.8M321.5,1361.9l6.4,-1.6M331.1,1367.1l8.1,-0.6M309.3,1376.0l5.0,-5.1M314.9,1352.8l5.6,-2.6" stroke="#8e101a" stroke-width="1.7" stroke-linecap="round" fill="none"/>
<path d="M312.9,1354.2l8.4,-4.1M315.0,1396.4l5.3,-3.7M331.4,1373.1l9.8,-1.8" stroke="#8e101a" stroke-width="2.1" stroke-linecap="round" fill="none"/>
<path d="M315.3,1362.8l4.4,-2.1M306.4,1382.8l6.0,-0.2" stroke="#c81422" stroke-width="2.5" stroke-linecap="round" fill="none"/>
<path d="M312.2,1390.1l6.5,-3.0M308.8,1375.8l8.5,-2.4M325.0,1354.0l8.4,-0.6" stroke="#c81422" stroke-width="1.7" stroke-linecap="round" fill="none"/>
<path d="M329.6,1365.1l6.3,-1.8M328.5,1363.5l8.4,-1.6" stroke="#c81422" stroke-width="2.1" stroke-linecap="round" fill="none"/>
</g></g>
<ellipse cx="428" cy="1369.6" rx="20.1" ry="28.1" transform="rotate(0 428 1369.6)" fill="none" stroke="#dadada" stroke-width="2.4" stroke-dasharray="7.8 4.4" stroke-dashoffset="2"/>
<clipPath id="cs8"><ellipse cx="428" cy="1369.6" rx="19.0" ry="27.0" transform="rotate(0 428 1369.6)"/></clipPath>
<g clip-path="url(#cs8)">
<rect x="406.8" y="1340.4" width="42.4" height="58.4" fill="#000"/>
<g filter="url(#bl)">
<rect x="409.8" y="1343.4" width="39.4" height="52.4" fill="#2a0709" opacity="0.32"/>
<path d="M418.2,1370.7l5.6,-0.1M421.6,1385.0l8.3,-0.6M428.8,1358.3l5.1,-0.7M417.0,1356.2l5.3,-1.0M420.3,1364.7l8.0,-1.1M425.0,1356.1l5.7,-1.0" stroke="#360a0d" stroke-width="2.1" stroke-linecap="round" fill="none"/>
<path d="M417.1,1391.2l5.2,-0.3M425.1,1365.1l8.6,-1.7M421.4,1378.1l7.5,-0.8" stroke="#360a0d" stroke-width="2.5" stroke-linecap="round" fill="none"/>
<path d="M430.1,1364.2l5.2,-0.1M429.7,1372.3l4.8,-0.6" stroke="#360a0d" stroke-width="1.7" stroke-linecap="round" fill="none"/>
<path d="M425.5,1391.0l4.7,-2.1M427.7,1384.2l4.8,-0.3M437.3,1372.0l7.1,-0.7M417.8,1379.0l7.9,-0.3M438.6,1383.0l4.9,-0.7M426.0,1347.4l7.0,-0.3M431.0,1347.3l4.6,-1.0M414.0,1375.6l5.4,-0.8M431.8,1388.8l8.7,-1.7" stroke="#5e0c13" stroke-width="1.7" stroke-linecap="round" fill="none"/>
<path d="M430.0,1383.0l9.3,-2.2M426.6,1387.9l7.9,-1.5M417.1,1361.8l4.0,-2.2" stroke="#5e0c13" stroke-width="2.1" stroke-linecap="round" fill="none"/>
<path d="M429.8,1353.4l8.4,0.1M423.7,1392.3l8.7,0.3M417.9,1364.1l8.8,0.6" stroke="#5e0c13" stroke-width="2.5" stroke-linecap="round" fill="none"/>
<path d="M430.3,1358.5l9.2,-1.4M423.4,1355.2l5.0,-0.7M430.4,1350.0l9.1,-0.1" stroke="#8e101a" stroke-width="2.1" stroke-linecap="round" fill="none"/>
<path d="M420.0,1380.6l8.7,-3.5" stroke="#8e101a" stroke-width="1.7" stroke-linecap="round" fill="none"/>
<path d="M414.1,1372.7l9.4,0.3" stroke="#8e101a" stroke-width="2.5" stroke-linecap="round" fill="none"/>
</g></g>
<ellipse cx="537.2" cy="1368.1" rx="20.2" ry="24.8" transform="rotate(0 537.2 1368.1)" fill="none" stroke="#dadada" stroke-width="2.4" stroke-dasharray="7.8 4.4" stroke-dashoffset="2"/>
<clipPath id="cs9"><ellipse cx="537.2" cy="1368.1" rx="19.1" ry="23.7" transform="rotate(0 537.2 1368.1)"/></clipPath>
<g clip-path="url(#cs9)">
<rect x="515.9" y="1342.2" width="42.6" height="51.8" fill="#000"/>
<g filter="url(#bl)">
<rect x="518.9" y="1345.2" width="39.6" height="45.8" fill="#2a0709" opacity="0.32"/>
<path d="M532.3,1384.9l5.9,-1.5M529.7,1378.0l6.8,-1.0M523.9,1375.6l8.5,-1.4M529.0,1371.6l4.5,0.2" stroke="#360a0d" stroke-width="2.5" stroke-linecap="round" fill="none"/>
<path d="M539.3,1366.5l9.0,2.6M535.5,1369.1l6.0,0.2" stroke="#360a0d" stroke-width="2.1" stroke-linecap="round" fill="none"/>
<path d="M547.2,1364.4l6.7,-1.1M530.8,1384.6l8.5,1.9M541.5,1373.2l8.8,1.4" stroke="#5e0c13" stroke-width="1.7" stroke-linecap="round" fill="none"/>
<path d="M544.5,1380.8l5.5,0.8M534.1,1379.2l8.0,-3.3M525.6,1369.8l4.5,0.3M542.5,1363.4l4.7,0.4" stroke="#5e0c13" stroke-width="2.5" stroke-linecap="round" fill="none"/>
<path d="M521.4,1358.9l5.0,-1.3" stroke="#5e0c13" stroke-width="2.1" stroke-linecap="round" fill="none"/>
<path d="M539.4,1364.7l6.1,1.0M537.8,1360.6l4.4,-0.2M537.7,1354.6l5.3,-0.4M533.6,1354.0l9.8,0.2M539.6,1380.2l6.3,-1.0M532.7,1360.3l5.1,-0.7" stroke="#8e101a" stroke-width="2.5" stroke-linecap="round" fill="none"/>
<path d="M530.8,1381.1l8.4,0.0M527.6,1384.9l4.2,1.0M528.4,1367.8l9.2,0.7" stroke="#8e101a" stroke-width="1.7" stroke-linecap="round" fill="none"/>
<path d="M525.4,1353.3l4.2,-2.8M540.5,1354.9l4.1,-0.3M539.6,1385.2l7.8,-2.7M529.8,1376.3l7.1,0.8M547.0,1380.6l5.2,0.2" stroke="#8e101a" stroke-width="2.1" stroke-linecap="round" fill="none"/>
<path d="M538.2,1364.7l5.8,0.2" stroke="#c81422" stroke-width="2.5" stroke-linecap="round" fill="none"/>
<path d="M539.7,1376.4l8.2,-2.9M521.4,1372.1l9.5,1.1M539.1,1348.9l7.3,0.9" stroke="#c81422" stroke-width="1.7" stroke-linecap="round" fill="none"/>
<path d="M528.6,1383.5l8.0,-1.4M530.1,1370.0l6.3,0.1M527.6,1353.1l7.5,1.4M524.5,1358.6l9.1,0.2M535.9,1366.3l5.8,0.2" stroke="#c81422" stroke-width="2.1" stroke-linecap="round" fill="none"/>
</g></g>
<ellipse cx="644" cy="1370.6" rx="22.6" ry="24.1" transform="rotate(0 644 1370.6)" fill="none" stroke="#dadada" stroke-width="2.4" stroke-dasharray="7.8 4.4" stroke-dashoffset="2"/>
<clipPath id="cs10"><ellipse cx="644" cy="1370.6" rx="21.5" ry="23.0" transform="rotate(0 644 1370.6)"/></clipPath>
<g clip-path="url(#cs10)">
<rect x="620.3" y="1345.4" width="47.4" height="50.4" fill="#000"/>
<g filter="url(#bl)">
<rect x="623.3" y="1348.4" width="44.4" height="44.4" fill="#2a0709" opacity="0.32"/>
<path d="M640.3,1378.8l5.9,-2.3M637.9,1363.1l5.1,-1.3M653.8,1380.5l9.1,-2.6" stroke="#360a0d" stroke-width="2.5" stroke-linecap="round" fill="none"/>
<path d="M628.4,1380.9l4.6,-3.2M632.7,1361.6l4.5,-2.5M631.4,1357.1l8.3,-2.6" stroke="#360a0d" stroke-width="1.7" stroke-linecap="round" fill="none"/>
<path d="M648.2,1389.9l8.6,-3.3M638.5,1382.2l5.4,-2.5M629.3,1363.6l4.6,-1.8M624.9,1369.4l7.6,-3.9M649.4,1376.4l4.0,-1.7M647.1,1392.3l8.0,-4.4" stroke="#360a0d" stroke-width="2.1" stroke-linecap="round" fill="none"/>
<path d="M624.3,1364.3l8.6,-2.1M649.7,1361.9l4.0,-1.6M642.0,1355.6l8.0,-2.7" stroke="#5e0c13" stroke-width="1.7" stroke-linecap="round" fill="none"/>
<path d="M634.4,1389.2l4.4,-1.1M660.3,1374.4l4.2,-4.2" stroke="#5e0c13" stroke-width="2.1" stroke-linecap="round" fill="none"/>
<path d="M640.8,1387.9l4.1,-2.2M645.8,1373.0l5.8,-2.8" stroke="#5e0c13" stroke-width="2.5" stroke-linecap="round" fill="none"/>
<path d="M636.0,1364.0l5.4,-1.6M650.6,1380.0l6.2,-2.5M628.3,1384.4l4.1,-1.5" stroke="#8e101a" stroke-width="2.5" stroke-linecap="round" fill="none"/>
<path d="M637.0,1384.1l8.1,-3.6M652.6,1372.7l4.4,-1.0M634.9,1382.0l6.9,-2.7M657.5,1375.6l6.2,-4.3M642.3,1380.2l5.3,-1.2M658.1,1380.0l6.4,-4.7M636.6,1379.0l3.8,-1.5M642.1,1352.1l5.9,-2.1" stroke="#8e101a" stroke-width="1.7" stroke-linecap="round" fill="none"/>
<path d="M647.3,1370.3l8.3,-2.1" stroke="#8e101a" stroke-width="2.1" stroke-linecap="round" fill="none"/>
<path d="M637.1,1374.4l8.1,-0.3M648.2,1383.7l4.2,-1.8" stroke="#c81422" stroke-width="1.7" stroke-linecap="round" fill="none"/>
<path d="M642.9,1382.9l8.8,-2.5M648.7,1380.7l4.8,-0.9M639.8,1352.3l4.4,-1.6" stroke="#c81422" stroke-width="2.5" stroke-linecap="round" fill="none"/>
<path d="M642.6,1378.6l5.6,-4.3M628.8,1359.2l9.0,-2.5M650.2,1379.6l8.8,-3.0M632.8,1367.3l3.7,-2.7" stroke="#c81422" stroke-width="2.1" stroke-linecap="round" fill="none"/>
</g></g>
<rect x="659" y="1410.8" width="31.2" height="5" fill="#fff"/>
<rect x="161.2" y="1433.1" width="539.5" height="39.5" fill="#b4b4b4" stroke="#6c6c6c" stroke-width="1.8"/>
<text x="217.0" y="1465.0" font-size="25" text-anchor="middle" >2 mm/s</text>
<text x="354.7" y="1465.0" font-size="25" text-anchor="middle" >4 mm/s</text>
<text x="490.3" y="1465.0" font-size="25" text-anchor="middle" >8 mm/s</text>
<text x="625.6" y="1465.0" font-size="25" text-anchor="middle" >12 mm/s</text>
<rect x="115.2" y="1480.9" width="34.6" height="265.4" fill="#e5e5e5" stroke="#6c6c6c" stroke-width="1.8"/>
<text transform="translate(145.6 1621.4) rotate(-90)" font-size="25" text-anchor="middle" stroke="#000" stroke-width="0.55" stroke-linejoin="round" >10/3</text>
<rect x="161.2" y="1481.6" width="539.5" height="265.4" fill="#000"/>
<ellipse cx="207.5" cy="1548.5" rx="34.9" ry="54.4" transform="rotate(0 207.5 1548.5)" fill="none" stroke="#dadada" stroke-width="2.4" stroke-dasharray="7.8 4.4" stroke-dashoffset="2"/>
<ellipse cx="248.5" cy="1548.5" rx="34.4" ry="54.4" transform="rotate(0 248.5 1548.5)" fill="none" stroke="#dadada" stroke-width="2.4" stroke-dasharray="7.8 4.4" stroke-dashoffset="2"/>
<clipPath id="cs11"><ellipse cx="207.5" cy="1548.5" rx="33.8" ry="53.3" transform="rotate(0 207.5 1548.5)"/><ellipse cx="248.5" cy="1548.5" rx="33.3" ry="53.3" transform="rotate(0 248.5 1548.5)"/></clipPath>
<g clip-path="url(#cs11)">
<rect x="171.5" y="1493.0" width="112.5" height="111.0" fill="#000"/>
<g filter="url(#bl)">
<rect x="174.5" y="1496.0" width="53.8" height="105.0" fill="#2a0709" opacity="0.30"/>
<rect x="228.2" y="1496.0" width="52.8" height="105.0" fill="#0a0a50" opacity="0.45"/>
<path d="M181.8,1538.2l1.9,-6.7M188.5,1586.2l0.7,-6.3M208.0,1590.7l4.6,-8.1M206.8,1541.6l2.7,-6.4M203.7,1504.3l2.9,-8.2M213.9,1555.9l1.9,-4.3M198.3,1512.7l3.7,-8.0M218.9,1577.4l2.5,-5.7M187.4,1582.0l2.6,-3.9M212.6,1594.4l2.6,-5.9M193.4,1594.7l1.9,-4.0M196.2,1524.5l0.8,-9.1" stroke="#360a0d" stroke-width="2.5" stroke-linecap="round" fill="none"/>
<path d="M249.9,1506.4l3.2,-6.1M258.4,1511.2l2.9,-7.2M260.8,1596.8l3.9,-7.1M265.2,1528.8l1.4,-3.9M239.8,1520.0l3.2,-5.9M249.3,1501.7l2.2,-4.8M245.2,1580.8l1.8,-5.3M239.4,1567.8l2.8,-6.1M261.7,1578.4l0.8,-4.0M240.1,1589.2l2.8,-9.2M262.2,1573.9l1.7,-7.5M259.4,1592.6l0.1,-6.0M233.1,1512.5l2.7,-7.1M240.3,1584.5l1.2,-4.0M241.9,1548.7l3.0,-5.5M249.8,1566.5l2.7,-7.1M241.6,1555.4l1.7,-6.4M264.8,1594.1l0.1,-4.1M255.3,1534.7l2.1,-8.3M261.3,1507.7l0.5,-4.3M230.9,1557.6l3.2,-8.4M229.7,1557.5l0.5,-6.8M263.8,1570.1l3.0,-5.1M251.3,1534.0l2.9,-3.5M259.5,1573.1l0.9,-9.7" stroke="#0c0c46" stroke-width="2.1" stroke-linecap="round" fill="none"/>
<path d="M233.2,1593.9l3.2,-8.6M246.1,1511.4l0.4,-5.9M249.6,1545.4l2.3,-7.7M259.1,1577.0l2.9,-6.3M272.1,1549.1l2.2,-7.3M234.6,1507.9l2.7,-6.3M268.5,1535.7l1.3,-5.1M275.5,1545.5l4.3,-6.8M274.2,1540.3l1.7,-5.5M249.3,1516.3l3.3,-7.8M265.1,1536.9l2.9,-7.4M274.6,1564.1l2.8,-5.6M251.5,1507.8l1.3,-4.1M258.7,1590.2l2.3,-8.1M249.9,1583.1l1.1,-9.1" stroke="#0c0c46" stroke-width="2.5" stroke-linecap="round" fill="none"/>
<path d="M195.9,1561.3l2.3,-3.9M214.6,1574.4l6.8,-5.3M215.2,1553.8l1.9,-5.4M189.2,1582.4l1.8,-5.1M188.9,1541.1l1.5,-5.1M226.7,1526.5l0.5,-7.5M217.4,1597.6l1.8,-8.8M189.5,1588.2l2.3,-6.2M208.7,1549.5l2.2,-8.1M196.4,1505.9l1.9,-6.4M202.3,1563.4l1.8,-9.1M181.5,1574.9l4.3,-9.0M207.4,1567.6l0.6,-5.6" stroke="#360a0d" stroke-width="1.7" stroke-linecap="round" fill="none"/>
<path d="M234.7,1516.1l1.9,-5.9M269.3,1532.1l1.3,-4.2M238.8,1536.9l1.6,-3.8M270.8,1527.0l2.0,-4.0M271.4,1584.2l3.9,-8.4M259.1,1588.3l2.2,-8.3M242.4,1581.3l3.3,-8.4M250.8,1521.9l6.1,-7.3M247.1,1596.0l2.9,-6.3M268.4,1545.7l3.0,-9.1" stroke="#0c0c46" stroke-width="1.7" stroke-linecap="round" fill="none"/>
<path d="M186.2,1558.4l2.9,-8.5M218.2,1521.9l1.8,-5.2M221.9,1551.0l1.0,-4.3M194.1,1541.5l4.9,-8.7M180.9,1577.4l1.8,-7.6M214.8,1561.9l2.8,-5.6M185.0,1561.0l0.4,-9.1M184.4,1521.2l1.7,-9.3M192.5,1555.9l2.5,-7.8M212.5,1557.7l3.9,-8.8M220.1,1532.9l2.2,-7.7" stroke="#360a0d" stroke-width="2.1" stroke-linecap="round" fill="none"/>
<path d="M200.4,1545.7l2.0,-6.8M196.0,1550.5l3.5,-9.0M189.2,1542.4l2.3,-5.0M192.1,1584.5l4.2,-8.2M196.3,1520.9l1.4,-9.5M224.3,1508.6l0.7,-4.8M193.9,1563.8l3.8,-8.2M222.9,1584.6l3.8,-8.7M198.3,1514.2l1.3,-8.1M216.2,1521.1l1.5,-5.3M178.1,1556.5l2.6,-6.5M202.3,1600.0l1.5,-9.2M197.1,1591.6l2.9,-7.0M224.2,1517.7l0.9,-5.5M219.7,1526.2l1.3,-4.8" stroke="#5e0c13" stroke-width="1.7" stroke-linecap="round" fill="none"/>
<path d="M176.8,1554.2l1.9,-6.6M187.3,1533.0l1.8,-5.6M207.4,1589.8l1.7,-5.3M211.8,1599.6l1.9,-4.0M215.7,1535.1l2.3,-5.7M196.3,1521.2l0.9,-9.7M195.5,1566.6l3.2,-8.5M209.8,1520.0l3.7,-7.5M198.9,1504.5l1.2,-4.4" stroke="#5e0c13" stroke-width="2.1" stroke-linecap="round" fill="none"/>
<path d="M256.5,1589.5l2.4,-7.4M237.8,1540.7l1.5,-3.9M262.7,1523.5l0.5,-4.8M263.0,1583.1l1.6,-5.1M236.4,1534.3l5.4,-7.8M233.7,1506.7l3.1,-6.0M235.1,1551.7l4.9,-6.8M253.0,1519.6l1.4,-6.0M255.1,1589.3l0.3,-8.2M251.7,1521.9l3.2,-7.2" stroke="#131372" stroke-width="1.7" stroke-linecap="round" fill="none"/>
<path d="M211.9,1590.5l2.3,-6.3M227.3,1547.3l3.9,-8.8M212.2,1544.6l2.3,-4.0M204.2,1531.8l2.5,-4.5M218.1,1560.8l2.9,-8.7M211.7,1583.2l2.7,-7.7M192.7,1553.4l3.8,-8.2M205.9,1598.3l2.7,-8.8M215.9,1546.1l3.5,-5.0M225.1,1565.0l1.7,-7.1M206.1,1539.3l1.3,-6.4" stroke="#5e0c13" stroke-width="2.5" stroke-linecap="round" fill="none"/>
<path d="M269.8,1546.6l0.8,-4.6M239.8,1569.3l3.7,-7.5M238.9,1527.9l2.7,-4.7" stroke="#131372" stroke-width="2.1" stroke-linecap="round" fill="none"/>
<path d="M246.7,1549.2l3.8,-6.7M239.7,1540.6l2.7,-7.6M239.4,1550.9l2.6,-5.3M236.6,1509.8l2.5,-6.0M243.0,1548.8l2.3,-8.4M236.8,1512.4l1.8,-9.1M236.2,1520.9l2.8,-6.4M265.4,1562.2l2.9,-4.8" stroke="#131372" stroke-width="2.5" stroke-linecap="round" fill="none"/>
<path d="M187.0,1511.7l2.5,-7.0M201.6,1599.7l0.3,-4.3M223.7,1573.0l2.5,-9.4M180.6,1561.9l3.0,-7.7M197.5,1525.1l2.3,-6.8M223.7,1517.0l1.6,-4.1M214.6,1517.4l4.5,-8.3M174.1,1550.5l2.3,-8.8M183.6,1530.6l1.4,-4.0M204.8,1524.5l2.4,-7.0M205.0,1555.8l1.8,-4.4" stroke="#8e101a" stroke-width="1.7" stroke-linecap="round" fill="none"/>
<path d="M190.3,1512.3l1.7,-7.8M183.1,1523.5l3.0,-6.9M195.2,1567.0l1.4,-8.5M187.3,1521.0l1.4,-5.4M203.9,1509.6l1.2,-6.8M220.2,1584.6l1.6,-7.6" stroke="#8e101a" stroke-width="2.5" stroke-linecap="round" fill="none"/>
<path d="M215.9,1510.9l1.4,-6.1M222.2,1534.4l2.7,-7.6M182.3,1546.5l3.0,-4.4M183.2,1532.7l3.5,-8.8M212.0,1527.4l2.1,-8.8M204.0,1514.2l-0.1,-7.8M190.3,1552.3l0.5,-5.2M212.5,1508.6l1.1,-5.9" stroke="#8e101a" stroke-width="2.1" stroke-linecap="round" fill="none"/>
<path d="M228.6,1519.0l1.1,-5.0M230.1,1587.7l2.4,-4.4M242.0,1597.0l1.3,-9.3M267.1,1540.3l2.1,-9.0M244.8,1516.3l2.9,-7.7M262.7,1570.1l2.7,-9.2M254.6,1571.6l2.1,-6.9M258.5,1598.9l1.2,-8.3" stroke="#1a1aa2" stroke-width="2.1" stroke-linecap="round" fill="none"/>
<path d="M244.0,1534.5l3.7,-7.4M241.4,1570.8l1.2,-5.2M237.2,1593.1l4.0,-8.2" stroke="#1a1aa2" stroke-width="2.5" stroke-linecap="round" fill="none"/>
<path d="M247.0,1569.0l2.5,-5.5M255.2,1524.3l2.7,-8.4M248.2,1513.8l1.4,-6.9M236.5,1542.4l2.4,-3.5M244.5,1532.6l2.8,-5.9M233.8,1546.3l2.1,-7.2M232.3,1561.8l2.6,-4.0" stroke="#1a1aa2" stroke-width="1.7" stroke-linecap="round" fill="none"/>
<path d="M196.6,1524.6l1.6,-4.4M194.1,1557.1l3.5,-7.6M186.7,1580.4l3.1,-5.8M203.4,1507.0l0.6,-5.6M216.3,1574.8l1.6,-8.8M176.4,1536.5l3.8,-7.0M220.9,1551.0l0.1,-4.1" stroke="#c81422" stroke-width="1.7" stroke-linecap="round" fill="none"/>
<path d="M211.1,1596.6l2.4,-9.4M203.8,1578.0l3.1,-6.9M187.9,1580.2l2.4,-4.7M219.5,1595.8l3.9,-8.2" stroke="#c81422" stroke-width="2.5" stroke-linecap="round" fill="none"/>
<path d="M267.8,1557.8l3.8,-9.1M244.5,1558.4l1.3,-4.6" stroke="#2828d2" stroke-width="2.1" stroke-linecap="round" fill="none"/>
<path d="M235.2,1558.1l1.7,-9.0" stroke="#2828d2" stroke-width="1.7" stroke-linecap="round" fill="none"/>
<path d="M248.1,1580.5l0.3,-9.8" stroke="#2828d2" stroke-width="2.5" stroke-linecap="round" fill="none"/>
</g></g>
<ellipse cx="351.5" cy="1552.7" rx="25.1" ry="35.6" transform="rotate(0 351.5 1552.7)" fill="none" stroke="#dadada" stroke-width="2.4" stroke-dasharray="7.8 4.4" stroke-dashoffset="2"/>
<ellipse cx="380" cy="1552.7" rx="24.6" ry="35.6" transform="rotate(0 380 1552.7)" fill="none" stroke="#dadada" stroke-width="2.4" stroke-dasharray="7.8 4.4" stroke-dashoffset="2"/>
<clipPath id="cs12"><ellipse cx="351.5" cy="1552.7" rx="24.0" ry="34.5" transform="rotate(0 351.5 1552.7)"/><ellipse cx="380" cy="1552.7" rx="23.5" ry="34.5" transform="rotate(0 380 1552.7)"/></clipPath>
<g clip-path="url(#cs12)">
<rect x="325.3" y="1516.0" width="80.4" height="73.4" fill="#000"/>
<g filter="url(#bl)">
<rect x="328.3" y="1519.0" width="37.7" height="67.4" fill="#2a0709" opacity="0.30"/>
<rect x="366.0" y="1519.0" width="36.7" height="67.4" fill="#0a0a50" opacity="0.50"/>
<path d="M334.2,1552.8l2.7,-4.1M340.9,1568.2l2.4,-6.4M352.8,1552.4l1.4,-4.1M359.8,1574.9l4.9,-7.6M345.4,1534.1l3.7,-5.0M353.2,1526.5l2.7,-6.6M344.8,1540.8l3.0,-5.9" stroke="#360a0d" stroke-width="1.7" stroke-linecap="round" fill="none"/>
<path d="M383.3,1525.9l3.3,-5.5M390.1,1549.0l5.7,-7.7M372.3,1532.1l3.2,-5.3M374.9,1551.8l3.0,-6.5M397.2,1549.2l3.6,-6.2M382.4,1534.3l4.7,-5.9M391.5,1572.9l2.9,-6.3" stroke="#0c0c46" stroke-width="1.7" stroke-linecap="round" fill="none"/>
<path d="M357.2,1561.2l4.9,-6.4M359.8,1539.5l1.3,-5.7M336.7,1558.6l2.1,-6.0M343.3,1541.7l2.1,-6.7M348.3,1583.7l5.6,-6.7M343.6,1537.3l2.6,-4.8M335.1,1558.6l4.4,-7.6" stroke="#360a0d" stroke-width="2.5" stroke-linecap="round" fill="none"/>
<path d="M365.8,1543.7l2.1,-5.4M387.3,1564.5l6.9,-7.2M378.0,1531.3l2.3,-5.6M376.6,1544.1l4.1,-7.0M393.0,1554.8l2.7,-5.7M381.3,1576.4l2.8,-5.6M380.9,1569.0l1.0,-5.8M398.1,1567.1l2.6,-7.1" stroke="#0c0c46" stroke-width="2.5" stroke-linecap="round" fill="none"/>
<path d="M381.2,1561.2l2.2,-5.0M383.3,1555.1l3.5,-4.1M385.7,1551.7l5.8,-8.0M373.5,1530.7l2.4,-8.6M378.3,1527.0l2.2,-4.0M390.7,1579.7l5.6,-7.0M379.4,1571.6l5.0,-4.4" stroke="#0c0c46" stroke-width="2.1" stroke-linecap="round" fill="none"/>
<path d="M356.2,1551.3l4.0,-4.5M343.9,1527.3l4.3,-7.4M335.7,1542.0l2.0,-4.3M350.2,1541.9l2.9,-5.8M343.1,1537.4l3.3,-5.4" stroke="#360a0d" stroke-width="2.1" stroke-linecap="round" fill="none"/>
<path d="M376.2,1537.2l3.0,-3.9M388.0,1560.6l5.6,-8.1M391.5,1576.5l3.1,-8.8M375.4,1558.9l2.9,-4.0M373.6,1563.4l1.9,-3.6M376.0,1545.0l0.5,-4.4M370.4,1575.1l2.3,-7.8M385.9,1572.6l3.3,-3.2M380.3,1572.0l2.1,-4.8" stroke="#131372" stroke-width="2.1" stroke-linecap="round" fill="none"/>
<path d="M335.6,1556.0l3.9,-3.8M356.9,1547.4l1.2,-4.7M344.5,1564.7l3.7,-6.2M334.1,1533.3l3.3,-7.4M348.0,1564.6l3.4,-5.7M341.8,1576.9l3.8,-7.4M342.5,1555.8l2.6,-3.7M336.4,1545.7l1.6,-4.2" stroke="#5e0c13" stroke-width="2.1" stroke-linecap="round" fill="none"/>
<path d="M380.4,1544.5l3.0,-4.1M393.4,1568.8l5.1,-8.0M389.3,1557.8l1.6,-4.3M395.4,1575.2l4.6,-6.9M379.1,1550.3l3.4,-5.2" stroke="#131372" stroke-width="1.7" stroke-linecap="round" fill="none"/>
<path d="M355.2,1550.8l3.1,-7.3M330.8,1544.4l5.5,-7.9M342.7,1557.8l3.5,-5.0M358.6,1571.8l3.4,-9.3" stroke="#5e0c13" stroke-width="2.5" stroke-linecap="round" fill="none"/>
<path d="M360.5,1552.6l4.7,-8.5M347.4,1556.0l6.4,-7.5M335.9,1549.3l2.4,-5.8M357.9,1564.0l2.4,-4.5M340.5,1575.9l2.8,-6.3M338.9,1531.7l3.0,-5.3M333.2,1563.5l2.6,-7.9" stroke="#5e0c13" stroke-width="1.7" stroke-linecap="round" fill="none"/>
<path d="M389.0,1534.6l2.9,-3.5M377.3,1578.0l2.4,-4.7" stroke="#131372" stroke-width="2.5" stroke-linecap="round" fill="none"/>
<path d="M338.8,1566.1l2.7,-5.9M332.5,1566.3l1.3,-3.9M333.7,1550.4l2.0,-4.7" stroke="#8e101a" stroke-width="2.1" stroke-linecap="round" fill="none"/>
<path d="M391.0,1537.8l3.6,-8.3M394.5,1564.9l3.5,-4.7M377.8,1557.3l3.1,-4.4" stroke="#1a1aa2" stroke-width="2.1" stroke-linecap="round" fill="none"/>
<path d="M363.0,1543.3l1.1,-8.7M348.0,1576.1l3.5,-8.7M356.3,1550.8l1.6,-3.8M347.1,1552.0l2.4,-3.7" stroke="#8e101a" stroke-width="2.5" stroke-linecap="round" fill="none"/>
<path d="M373.0,1578.8l4.2,-6.9" stroke="#1a1aa2" stroke-width="1.7" stroke-linecap="round" fill="none"/>
<path d="M359.8,1581.2l3.1,-6.4M341.0,1575.4l2.0,-3.7M350.7,1575.8l1.7,-5.5M348.1,1564.7l2.2,-5.7" stroke="#8e101a" stroke-width="1.7" stroke-linecap="round" fill="none"/>
<path d="M374.4,1538.7l2.4,-4.5" stroke="#1a1aa2" stroke-width="2.5" stroke-linecap="round" fill="none"/>
<path d="M330.3,1565.1l3.1,-8.2M336.1,1538.6l4.9,-6.7M358.6,1554.3l5.1,-8.0M347.2,1573.0l4.3,-7.8" stroke="#c81422" stroke-width="2.1" stroke-linecap="round" fill="none"/>
<path d="M346.2,1551.1l2.3,-7.0" stroke="#c81422" stroke-width="2.5" stroke-linecap="round" fill="none"/>
<path d="M398.7,1561.1l2.4,-7.0M376.8,1561.0l3.4,-6.2M379.5,1561.7l3.4,-9.1" stroke="#2828d2" stroke-width="2.1" stroke-linecap="round" fill="none"/>
<path d="M335.8,1544.5l5.9,-6.6" stroke="#c81422" stroke-width="1.7" stroke-linecap="round" fill="none"/>
<path d="M382.5,1551.5l3.3,-6.3" stroke="#2828d2" stroke-width="1.7" stroke-linecap="round" fill="none"/>
</g></g>
<ellipse cx="485.4" cy="1547" rx="22.9" ry="26.1" transform="rotate(0 485.4 1547)" fill="none" stroke="#dadada" stroke-width="2.4" stroke-dasharray="7.8 4.4" stroke-dashoffset="2"/>
<ellipse cx="513.2" cy="1547" rx="22.9" ry="26.1" transform="rotate(0 513.2 1547)" fill="none" stroke="#dadada" stroke-width="2.4" stroke-dasharray="7.8 4.4" stroke-dashoffset="2"/>
<clipPath id="cs13"><ellipse cx="485.4" cy="1547" rx="21.8" ry="25.0" transform="rotate(0 485.4 1547)"/><ellipse cx="513.2" cy="1547" rx="21.8" ry="25.0" transform="rotate(0 513.2 1547)"/></clipPath>
<g clip-path="url(#cs13)">
<rect x="461.4" y="1519.8" width="75.8" height="54.4" fill="#000"/>
<g filter="url(#bl)">
<rect x="464.4" y="1522.8" width="34.9" height="48.4" fill="#2a0709" opacity="0.30"/>
<rect x="499.3" y="1522.8" width="34.9" height="48.4" fill="#0a0a50" opacity="0.39"/>
<path d="M479.0,1555.7l3.5,-8.0M477.6,1540.4l4.0,-4.1M480.6,1561.9l2.6,-3.8" stroke="#360a0d" stroke-width="2.1" stroke-linecap="round" fill="none"/>
<path d="M517.2,1538.4l5.2,-8.3M515.7,1541.9l5.7,-7.1M507.5,1561.1l5.2,-8.5M527.4,1557.5l3.2,-4.8M518.1,1551.4l2.6,-4.9M531.0,1545.1l2.8,-4.8M514.1,1548.4l2.8,-4.0" stroke="#0c0c46" stroke-width="2.1" stroke-linecap="round" fill="none"/>
<path d="M501.8,1540.2l2.5,-5.2M520.1,1559.6l2.1,-3.7M503.3,1557.7l3.3,-4.6M513.6,1526.8l3.1,-3.0M504.5,1568.0l3.2,-6.5M522.6,1540.6l3.1,-4.2" stroke="#0c0c46" stroke-width="2.5" stroke-linecap="round" fill="none"/>
<path d="M499.2,1537.4l2.7,-3.2M501.9,1562.4l2.9,-6.2M508.1,1567.6l1.1,-5.3M523.7,1535.9l2.2,-7.0M528.5,1542.8l4.6,-3.9" stroke="#0c0c46" stroke-width="1.7" stroke-linecap="round" fill="none"/>
<path d="M472.8,1547.4l3.0,-5.7M468.8,1542.8l1.0,-5.4" stroke="#360a0d" stroke-width="2.5" stroke-linecap="round" fill="none"/>
<path d="M476.3,1563.8l3.0,-9.1" stroke="#5e0c13" stroke-width="1.7" stroke-linecap="round" fill="none"/>
<path d="M491.7,1535.0l6.1,-6.7M466.1,1556.3l2.4,-4.5M482.4,1560.2l3.7,-7.6M479.2,1542.0l3.0,-4.5" stroke="#5e0c13" stroke-width="2.5" stroke-linecap="round" fill="none"/>
<path d="M504.9,1528.8l4.8,-6.0M526.9,1542.3l3.2,-6.0M508.9,1567.6l3.5,-4.6M503.5,1551.5l3.8,-5.8" stroke="#131372" stroke-width="1.7" stroke-linecap="round" fill="none"/>
<path d="M512.7,1535.6l3.7,-8.5M502.3,1541.5l4.5,-8.3" stroke="#131372" stroke-width="2.1" stroke-linecap="round" fill="none"/>
<path d="M518.5,1553.5l4.4,-7.3" stroke="#131372" stroke-width="2.5" stroke-linecap="round" fill="none"/>
<path d="M487.1,1570.8l5.8,-6.3M493.7,1567.1l4.9,-8.2" stroke="#5e0c13" stroke-width="2.1" stroke-linecap="round" fill="none"/>
<path d="M467.8,1554.3l2.3,-5.0M495.2,1554.2l2.0,-4.2" stroke="#8e101a" stroke-width="2.5" stroke-linecap="round" fill="none"/>
<path d="M490.1,1549.5l3.9,-7.7M479.7,1553.6l3.4,-6.6" stroke="#8e101a" stroke-width="2.1" stroke-linecap="round" fill="none"/>
<path d="M522.4,1556.9l3.3,-4.1M524.6,1565.3l4.3,-8.3M521.6,1548.8l3.9,-6.3" stroke="#1a1aa2" stroke-width="1.7" stroke-linecap="round" fill="none"/>
<path d="M511.7,1542.5l4.5,-5.1" stroke="#1a1aa2" stroke-width="2.1" stroke-linecap="round" fill="none"/>
<path d="M512.7,1557.2l2.6,-3.4" stroke="#1a1aa2" stroke-width="2.5" stroke-linecap="round" fill="none"/>
<path d="M482.4,1557.7l6.9,-6.6M469.4,1537.8l4.0,-8.3" stroke="#8e101a" stroke-width="1.7" stroke-linecap="round" fill="none"/>
<path d="M493.8,1539.2l3.1,-3.8" stroke="#c81422" stroke-width="2.1" stroke-linecap="round" fill="none"/>
<path d="M470.1,1543.1l1.4,-8.9" stroke="#c81422" stroke-width="1.7" stroke-linecap="round" fill="none"/>
</g></g>
<ellipse cx="620.2" cy="1546.2" rx="16.9" ry="16.1" transform="rotate(0 620.2 1546.2)" fill="none" stroke="#dadada" stroke-width="2.4" stroke-dasharray="7.8 4.4" stroke-dashoffset="2"/>
<ellipse cx="641.6" cy="1546.2" rx="16.9" ry="16.1" transform="rotate(0 641.6 1546.2)" fill="none" stroke="#dadada" stroke-width="2.4" stroke-dasharray="7.8 4.4" stroke-dashoffset="2"/>
<clipPath id="cs14"><ellipse cx="620.2" cy="1546.2" rx="15.8" ry="15.0" transform="rotate(0 620.2 1546.2)"/><ellipse cx="641.6" cy="1546.2" rx="15.8" ry="15.0" transform="rotate(0 641.6 1546.2)"/></clipPath>
<g clip-path="url(#cs14)">
<rect x="602.2" y="1529.0" width="57.4" height="34.4" fill="#000"/>
<g filter="url(#bl)">
<rect x="605.2" y="1532.0" width="25.7" height="28.4" fill="#2a0709" opacity="0.30"/>
<rect x="630.9" y="1532.0" width="25.7" height="28.4" fill="#0a0a50" opacity="0.48"/>
<path d="M618.5,1541.0l-2.4,-7.5M629.1,1556.6l1.0,-3.9" stroke="#360a0d" stroke-width="1.7" stroke-linecap="round" fill="none"/>
<path d="M614.6,1547.1l0.9,-5.9M621.9,1556.4l0.3,-8.9M624.0,1538.8l0.2,-5.6" stroke="#360a0d" stroke-width="2.1" stroke-linecap="round" fill="none"/>
<path d="M645.1,1554.4l-0.1,-4.8M631.4,1550.4l-0.6,-8.7M632.4,1553.1l0.4,-5.4" stroke="#0c0c46" stroke-width="2.1" stroke-linecap="round" fill="none"/>
<path d="M647.4,1551.4l-0.2,-8.7" stroke="#0c0c46" stroke-width="1.7" stroke-linecap="round" fill="none"/>
<path d="M634.8,1546.0l0.6,-5.8M640.0,1552.6l0.6,-7.3" stroke="#0c0c46" stroke-width="2.5" stroke-linecap="round" fill="none"/>
<path d="M624.0,1548.1l0.0,-7.4" stroke="#5e0c13" stroke-width="1.7" stroke-linecap="round" fill="none"/>
<path d="M650.0,1558.6l0.4,-7.8" stroke="#131372" stroke-width="2.5" stroke-linecap="round" fill="none"/>
<path d="M611.5,1541.7l1.1,-7.1M609.5,1540.9l0.9,-5.8" stroke="#5e0c13" stroke-width="2.5" stroke-linecap="round" fill="none"/>
<path d="M611.1,1545.1l0.5,-6.7" stroke="#8e101a" stroke-width="2.1" stroke-linecap="round" fill="none"/>
<path d="M653.1,1549.1l1.6,-8.8" stroke="#1a1aa2" stroke-width="2.5" stroke-linecap="round" fill="none"/>
<path d="M613.6,1556.0l1.2,-9.3M631.6,1539.1l0.5,-4.0" stroke="#c81422" stroke-width="2.1" stroke-linecap="round" fill="none"/>
<path d="M640.8,1553.5l0.1,-5.6" stroke="#2828d2" stroke-width="1.7" stroke-linecap="round" fill="none"/>
</g></g>
<ellipse cx="227.4" cy="1680.2" rx="33.3" ry="52.9" transform="rotate(4 227.4 1680.2)" fill="none" stroke="#dadada" stroke-width="2.4" stroke-dasharray="7.8 4.4" stroke-dashoffset="2"/>
<clipPath id="cs15"><ellipse cx="227.4" cy="1680.2" rx="32.2" ry="51.8" transform="rotate(4 227.4 1680.2)"/></clipPath>
<g clip-path="url(#cs15)">
<rect x="193.0" y="1626.2" width="68.8" height="108.0" fill="#000"/>
<g filter="url(#bl)">
<rect x="196.0" y="1629.2" width="65.8" height="102.0" fill="#2a0709" opacity="0.25"/>
<path d="M226.4,1647.8l7.6,-2.2M236.2,1662.1l9.2,-2.8M221.4,1665.0l4.2,-2.3M219.2,1653.9l9.4,0.0M221.4,1634.6l9.6,-2.6M212.2,1692.4l4.8,-3.1M214.8,1654.6l5.6,-2.8" stroke="#360a0d" stroke-width="2.5" stroke-linecap="round" fill="none"/>
<path d="M245.5,1656.9l5.0,-4.4M217.5,1712.5l8.0,-3.6M218.4,1632.7l7.3,-1.7M249.8,1700.9l4.2,-2.7M237.3,1690.1l5.1,-1.4M218.0,1700.7l6.7,-3.3M240.7,1642.6l5.2,-1.9M232.2,1702.2l7.5,-1.2" stroke="#360a0d" stroke-width="1.7" stroke-linecap="round" fill="none"/>
<path d="M214.8,1714.7l5.4,-1.2M237.6,1649.7l6.8,-3.4M205.5,1712.1l3.9,-1.8M200.4,1689.1l9.3,-1.8M216.6,1714.9l5.7,-1.8M211.1,1697.8l5.4,-3.6M209.1,1677.5l6.6,-2.2M236.4,1669.3l6.1,-3.5M215.2,1687.9l6.5,-3.6M242.1,1697.5l9.0,-2.7" stroke="#360a0d" stroke-width="2.1" stroke-linecap="round" fill="none"/>
<path d="M209.5,1648.1l5.4,-1.2M205.4,1688.4l5.1,-1.7M228.8,1724.4l6.2,-2.0M201.2,1653.7l6.3,-3.2M224.9,1685.6l7.1,-2.3M241.0,1658.4l5.9,-2.1M204.0,1690.2l6.6,-1.9M227.4,1722.9l6.3,-3.4" stroke="#5e0c13" stroke-width="2.1" stroke-linecap="round" fill="none"/>
<path d="M245.1,1646.8l5.5,-1.4M232.6,1692.2l9.1,-3.5M210.0,1662.7l9.3,-3.0M250.9,1687.4l7.6,-1.0M228.4,1668.1l9.2,-2.0M222.4,1656.9l4.6,-1.8M222.6,1720.6l7.7,-0.9" stroke="#5e0c13" stroke-width="2.5" stroke-linecap="round" fill="none"/>
<path d="M197.4,1688.1l4.2,-1.6M235.2,1644.9l5.5,-1.9M217.5,1669.2l6.0,-2.8M221.7,1638.3l7.0,-0.9M223.1,1631.2l8.7,-2.3M230.6,1647.1l4.1,-2.6M248.7,1688.8l5.8,-2.4M229.3,1649.7l6.7,-2.2" stroke="#5e0c13" stroke-width="1.7" stroke-linecap="round" fill="none"/>
<path d="M200.9,1665.9l7.9,-4.6" stroke="#8e101a" stroke-width="2.1" stroke-linecap="round" fill="none"/>
<path d="M236.0,1644.5l9.3,-1.6M210.4,1672.2l9.3,-3.0M212.9,1694.4l8.9,-1.2M230.4,1639.8l7.6,-1.5" stroke="#8e101a" stroke-width="1.7" stroke-linecap="round" fill="none"/>
<path d="M217.1,1709.5l3.9,-1.9M210.1,1714.6l4.8,-2.9M216.5,1673.6l6.5,-2.9" stroke="#8e101a" stroke-width="2.5" stroke-linecap="round" fill="none"/>
<path d="M244.2,1671.0l5.8,-0.4" stroke="#c81422" stroke-width="2.1" stroke-linecap="round" fill="none"/>
<path d="M206.1,1688.9l6.7,-3.3M212.5,1701.0l8.5,-3.0" stroke="#c81422" stroke-width="2.5" stroke-linecap="round" fill="none"/>
</g></g>
<ellipse cx="358.3" cy="1680.5" rx="24.9" ry="34.9" transform="rotate(0 358.3 1680.5)" fill="none" stroke="#dadada" stroke-width="2.4" stroke-dasharray="7.8 4.4" stroke-dashoffset="2"/>
<clipPath id="cs16"><ellipse cx="358.3" cy="1680.5" rx="23.8" ry="33.8" transform="rotate(0 358.3 1680.5)"/></clipPath>
<g clip-path="url(#cs16)">
<rect x="332.3" y="1644.5" width="52.0" height="72.0" fill="#000"/>
<g filter="url(#bl)">
<rect x="335.3" y="1647.5" width="49.0" height="66.0" fill="#2a0709" opacity="0.32"/>
<path d="M356.0,1705.2l9.4,-3.4M351.5,1675.7l6.8,-2.1M349.0,1681.8l5.2,-0.7M369.6,1683.8l4.6,-0.4M343.3,1682.4l6.3,-2.1M345.3,1680.0l8.1,-2.4" stroke="#360a0d" stroke-width="2.5" stroke-linecap="round" fill="none"/>
<path d="M373.8,1696.9l6.1,-3.4M369.0,1695.2l4.9,-1.7M355.5,1693.5l8.8,-2.0M364.8,1681.4l7.7,-3.5M355.6,1681.3l7.4,-2.2M347.6,1654.2l4.7,-1.1" stroke="#360a0d" stroke-width="2.1" stroke-linecap="round" fill="none"/>
<path d="M344.3,1678.2l6.4,-1.7M363.0,1684.0l6.7,-1.2M354.6,1710.2l8.5,-2.3M365.8,1696.7l8.8,-0.3M341.5,1661.4l8.8,-1.5M358.6,1693.2l4.0,0.6M357.6,1687.8l5.3,-1.9" stroke="#360a0d" stroke-width="1.7" stroke-linecap="round" fill="none"/>
<path d="M371.9,1690.8l4.7,-2.0M352.9,1656.9l6.2,-0.9M362.2,1676.6l4.7,-1.4M357.5,1674.4l7.4,0.8M353.0,1690.6l9.2,-2.7M337.8,1669.0l8.3,-0.6M369.8,1677.1l8.6,-1.1M339.8,1695.8l4.2,-1.2M365.0,1668.9l9.6,-0.7M338.0,1669.0l5.1,-0.1M345.5,1676.2l4.3,-0.5" stroke="#5e0c13" stroke-width="2.1" stroke-linecap="round" fill="none"/>
<path d="M355.3,1698.8l4.0,-1.7M367.8,1694.1l7.4,-1.5M372.5,1681.8l5.9,-3.0M342.5,1680.6l5.5,0.2" stroke="#5e0c13" stroke-width="2.5" stroke-linecap="round" fill="none"/>
<path d="M361.8,1683.0l9.6,-1.9M370.4,1686.8l6.3,-0.3M376.3,1685.2l5.0,0.0M367.3,1694.0l6.5,-2.5M342.0,1699.4l8.3,-1.9M346.0,1700.2l9.7,-0.6" stroke="#5e0c13" stroke-width="1.7" stroke-linecap="round" fill="none"/>
<path d="M347.4,1673.1l7.1,-1.3M356.8,1653.7l6.9,-1.0M354.6,1708.3l6.7,-2.8M368.2,1700.1l6.1,-0.1M373.7,1681.5l5.4,-0.8" stroke="#8e101a" stroke-width="2.1" stroke-linecap="round" fill="none"/>
<path d="M353.1,1671.6l8.5,-3.9M338.8,1666.7l8.1,-3.8M354.7,1682.7l5.7,-1.0M360.6,1688.2l5.3,-1.3" stroke="#8e101a" stroke-width="1.7" stroke-linecap="round" fill="none"/>
<path d="M342.4,1658.5l5.3,-1.6M364.4,1699.6l4.3,-0.5M336.8,1685.6l7.9,-0.9M343.0,1694.4l9.2,-1.5M360.5,1662.8l5.9,1.0M356.6,1684.3l4.3,-1.9M342.0,1699.4l8.3,-1.4M364.1,1705.9l4.7,-0.0M363.4,1683.7l4.0,-0.8" stroke="#8e101a" stroke-width="2.5" stroke-linecap="round" fill="none"/>
<path d="M356.6,1702.9l4.0,-1.7M347.6,1651.8l6.5,-2.4" stroke="#c81422" stroke-width="1.7" stroke-linecap="round" fill="none"/>
<path d="M357.7,1669.7l6.2,0.1M354.8,1711.8l4.4,-0.3M362.0,1673.7l4.8,-2.7" stroke="#c81422" stroke-width="2.1" stroke-linecap="round" fill="none"/>
<path d="M357.6,1670.7l5.9,-0.7M357.0,1691.6l8.8,-1.8" stroke="#c81422" stroke-width="2.5" stroke-linecap="round" fill="none"/>
</g></g>
<ellipse cx="497.4" cy="1681.3" rx="20.3" ry="22.6" transform="rotate(0 497.4 1681.3)" fill="none" stroke="#dadada" stroke-width="2.4" stroke-dasharray="7.8 4.4" stroke-dashoffset="2"/>
<clipPath id="cs17"><ellipse cx="497.4" cy="1681.3" rx="19.2" ry="21.5" transform="rotate(0 497.4 1681.3)"/></clipPath>
<g clip-path="url(#cs17)">
<rect x="476.0" y="1657.6" width="42.8" height="47.4" fill="#000"/>
<g filter="url(#bl)">
<rect x="479.0" y="1660.6" width="39.8" height="41.4" fill="#2a0709" opacity="0.40"/>
<path d="M496.4,1671.9l4.7,-2.3M501.2,1699.0l6.4,-5.2" stroke="#360a0d" stroke-width="2.5" stroke-linecap="round" fill="none"/>
<path d="M487.3,1692.3l9.3,-3.0M495.2,1693.3l3.9,-3.7M501.2,1694.9l4.7,-1.6" stroke="#360a0d" stroke-width="1.7" stroke-linecap="round" fill="none"/>
<path d="M483.7,1691.4l7.1,-1.5" stroke="#360a0d" stroke-width="2.1" stroke-linecap="round" fill="none"/>
<path d="M493.3,1670.0l6.2,-4.6M479.8,1674.8l7.2,-2.5" stroke="#5e0c13" stroke-width="2.5" stroke-linecap="round" fill="none"/>
<path d="M489.6,1676.4l8.4,-4.4" stroke="#5e0c13" stroke-width="1.7" stroke-linecap="round" fill="none"/>
<path d="M505.5,1678.3l4.7,-2.4" stroke="#8e101a" stroke-width="2.1" stroke-linecap="round" fill="none"/>
</g></g>
<ellipse cx="629.8" cy="1682.1" rx="16.5" ry="16.5" transform="rotate(0 629.8 1682.1)" fill="none" stroke="#dadada" stroke-width="2.4" stroke-dasharray="7.8 4.4" stroke-dashoffset="2"/>
<clipPath id="cs18"><ellipse cx="629.8" cy="1682.1" rx="15.4" ry="15.4" transform="rotate(0 629.8 1682.1)"/></clipPath>
<g clip-path="url(#cs18)">
<rect x="612.2" y="1664.5" width="35.2" height="35.2" fill="#000"/>
<g filter="url(#bl)">
<rect x="615.2" y="1667.5" width="32.2" height="29.2" fill="#2a0709" opacity="0.40"/>
<path d="M625.3,1671.6l8.8,0.4M620.0,1679.0l5.7,-0.7" stroke="#360a0d" stroke-width="2.5" stroke-linecap="round" fill="none"/>
<path d="M631.5,1692.3l8.2,-2.5" stroke="#360a0d" stroke-width="1.7" stroke-linecap="round" fill="none"/>
<path d="M624.7,1674.9l7.8,-2.7" stroke="#5e0c13" stroke-width="1.7" stroke-linecap="round" fill="none"/>
<path d="M617.0,1682.7l8.3,-3.0M622.0,1673.3l4.5,-2.9" stroke="#5e0c13" stroke-width="2.5" stroke-linecap="round" fill="none"/>
<path d="M628.5,1685.8l8.3,-0.5" stroke="#5e0c13" stroke-width="2.1" stroke-linecap="round" fill="none"/>
<path d="M638.0,1676.6l4.6,-0.5M623.2,1689.4l4.6,-1.3M618.4,1690.4l7.5,-0.9" stroke="#8e101a" stroke-width="2.5" stroke-linecap="round" fill="none"/>
<path d="M624.8,1695.0l6.9,-1.4M634.5,1682.6l5.0,-1.2" stroke="#8e101a" stroke-width="2.1" stroke-linecap="round" fill="none"/>
</g></g>
<rect x="656.6" y="1730.8" width="37.5" height="5.2" fill="#fff"/>
</g>
<g id="panel-e">
<text x="722.2" y="1184.4" font-size="38.3" text-anchor="start" >(e)</text>
<text x="787.2" y="1182.8" font-size="30" text-anchor="start" >(i)</text>
<text x="1456.8" y="1182.8" font-size="30" text-anchor="start" >(ii)</text>
<rect x="841.6" y="1183.5" width="578.1" height="482.0" fill="#fff" stroke="#868686" stroke-width="2.4"/>
<line x1="872.4" y1="1665.5" x2="872.4" y2="1670.5" stroke="#868686" stroke-width="1.6"/>
<text x="872.4" y="1698.0" font-size="25" text-anchor="middle" >2</text>
<line x1="975.1" y1="1665.5" x2="975.1" y2="1670.5" stroke="#868686" stroke-width="1.6"/>
<text x="975.1" y="1698.0" font-size="25" text-anchor="middle" >4</text>
<line x1="1181.6" y1="1665.5" x2="1181.6" y2="1670.5" stroke="#868686" stroke-width="1.6"/>
<text x="1181.6" y="1698.0" font-size="25" text-anchor="middle" >8</text>
<line x1="1389.5" y1="1665.5" x2="1389.5" y2="1670.5" stroke="#868686" stroke-width="1.6"/>
<text x="1389.5" y="1698.0" font-size="25" text-anchor="middle" >12</text>
<line x1="836.6" y1="1205.3" x2="841.6" y2="1205.3" stroke="#868686" stroke-width="1.6"/>
<text x="832.5" y="1214.3" font-size="25" text-anchor="end" >0.90</text>
<line x1="836.6" y1="1337.1" x2="841.6" y2="1337.1" stroke="#868686" stroke-width="1.6"/>
<text x="832.5" y="1346.1" font-size="25" text-anchor="end" >0.75</text>
<line x1="836.6" y1="1468.4" x2="841.6" y2="1468.4" stroke="#868686" stroke-width="1.6"/>
<text x="832.5" y="1477.4" font-size="25" text-anchor="end" >0.60</text>
<line x1="836.6" y1="1600.2" x2="841.6" y2="1600.2" stroke="#868686" stroke-width="1.6"/>
<text x="832.5" y="1609.2" font-size="25" text-anchor="end" >0.45</text>
<path d="M872.4,1540.0V1582.0M868.6,1540.0H876.1999999999999M868.6,1582.0H876.1999999999999M975.1,1500.3V1535.9M971.3000000000001,1500.3H978.9M971.3000000000001,1535.9H978.9M1181.6,1429.0V1466.4M1177.8,1429.0H1185.3999999999999M1177.8,1466.4H1185.3999999999999" fill="none" stroke="#a6d854" stroke-width="2.3" opacity="0.85"/>
<path d="M872.4,1435.1V1461.9M868.6,1435.1H876.1999999999999M868.6,1461.9H876.1999999999999M975.1,1385.1V1405.1M971.3000000000001,1385.1H978.9M971.3000000000001,1405.1H978.9M1181.6,1367.0V1386.2M1177.8,1367.0H1185.3999999999999M1177.8,1386.2H1185.3999999999999" fill="none" stroke="#e78ac3" stroke-width="2.3" opacity="0.85"/>
<path d="M872.4,1370.2V1390.2M868.6,1370.2H876.1999999999999M868.6,1390.2H876.1999999999999M975.1,1341.6V1379.0M971.3000000000001,1341.6H978.9M971.3000000000001,1379.0H978.9M1181.6,1318.0V1348.8M1177.8,1318.0H1185.3999999999999M1177.8,1348.8H1185.3999999999999M1389.5,1323.1V1343.1M1385.7,1323.1H1393.3M1385.7,1343.1H1393.3" fill="none" stroke="#8da0cb" stroke-width="2.3" opacity="0.85"/>
<path d="M872.4,1328.5V1356.5M868.6,1328.5H876.1999999999999M868.6,1356.5H876.1999999999999M975.1,1309.7V1315.7M971.3000000000001,1309.7H978.9M971.3000000000001,1315.7H978.9M1181.6,1291.9V1303.9M1177.8,1291.9H1185.3999999999999M1177.8,1303.9H1185.3999999999999M1389.5,1282.0V1292.0M1385.7,1282.0H1393.3M1385.7,1292.0H1393.3" fill="none" stroke="#66c2a5" stroke-width="2.3" opacity="0.85"/>
<path d="M872.4,1372.2V1396.2M868.6,1372.2H876.1999999999999M868.6,1396.2H876.1999999999999M975.1,1352.3V1377.7M971.3000000000001,1352.3H978.9M971.3000000000001,1377.7H978.9M1181.6,1290.6V1319.6M1177.8,1290.6H1185.3999999999999M1177.8,1319.6H1185.3999999999999M1389.5,1264.5V1282.5M1385.7,1264.5H1393.3M1385.7,1282.5H1393.3" fill="none" stroke="#fc8d62" stroke-width="2.3" opacity="0.85"/>
<polyline points="872.4,1561.0 975.1,1518.1 1181.6,1447.7" fill="none" stroke="#a6d854" stroke-width="4" stroke-linejoin="round"/>
<circle cx="872.4" cy="1561.0" r="5" fill="#a6d854"/>
<circle cx="975.1" cy="1518.1" r="5" fill="#a6d854"/>
<circle cx="1181.6" cy="1447.7" r="5" fill="#a6d854"/>
<polyline points="872.4,1448.5 975.1,1395.1 1181.6,1376.6" fill="none" stroke="#e78ac3" stroke-width="4" stroke-linejoin="round"/>
<circle cx="872.4" cy="1448.5" r="5" fill="#e78ac3"/>
<circle cx="975.1" cy="1395.1" r="5" fill="#e78ac3"/>
<circle cx="1181.6" cy="1376.6" r="5" fill="#e78ac3"/>
<polyline points="872.4,1380.2 975.1,1360.3 1181.6,1333.4 1389.5,1333.1" fill="none" stroke="#8da0cb" stroke-width="4" stroke-linejoin="round"/>
<circle cx="872.4" cy="1380.2" r="5" fill="#8da0cb"/>
<circle cx="975.1" cy="1360.3" r="5" fill="#8da0cb"/>
<circle cx="1181.6" cy="1333.4" r="5" fill="#8da0cb"/>
<circle cx="1389.5" cy="1333.1" r="5" fill="#8da0cb"/>
<polyline points="872.4,1342.5 975.1,1312.7 1181.6,1297.9 1389.5,1287.0" fill="none" stroke="#66c2a5" stroke-width="4" stroke-linejoin="round"/>
<circle cx="872.4" cy="1342.5" r="5" fill="#66c2a5"/>
<circle cx="975.1" cy="1312.7" r="5" fill="#66c2a5"/>
<circle cx="1181.6" cy="1297.9" r="5" fill="#66c2a5"/>
<circle cx="1389.5" cy="1287.0" r="5" fill="#66c2a5"/>
<polyline points="872.4,1384.2 975.1,1365.0 1181.6,1305.1 1389.5,1273.5" fill="none" stroke="#fc8d62" stroke-width="4" stroke-linejoin="round"/>
<circle cx="872.4" cy="1384.2" r="5" fill="#fc8d62"/>
<circle cx="975.1" cy="1365.0" r="5" fill="#fc8d62"/>
<circle cx="1181.6" cy="1305.1" r="5" fill="#fc8d62"/>
<circle cx="1389.5" cy="1273.5" r="5" fill="#fc8d62"/>
<text x="1123.2" y="1729.7" font-size="25.3" text-anchor="middle">Printing speed U/(mm·s<tspan font-size="60%" dy="-0.55em">-1</tspan><tspan dy="0.33em">)</tspan></text>
<text transform="translate(770.5 1414.0) rotate(-90)" font-size="25" text-anchor="middle" stroke="#000" stroke-width="0.55" stroke-linejoin="round" >Aspect ratio f</text>
<rect x="1515" y="1183.5" width="579.2" height="482.0" fill="#fff" stroke="#868686" stroke-width="2.4"/>
<line x1="1545.1" y1="1665.5" x2="1545.1" y2="1670.5" stroke="#868686" stroke-width="1.6"/>
<text x="1545.1" y="1698.0" font-size="25" text-anchor="middle" >2</text>
<line x1="1647.8" y1="1665.5" x2="1647.8" y2="1670.5" stroke="#868686" stroke-width="1.6"/>
<text x="1647.8" y="1698.0" font-size="25" text-anchor="middle" >4</text>
<line x1="1855.4" y1="1665.5" x2="1855.4" y2="1670.5" stroke="#868686" stroke-width="1.6"/>
<text x="1855.4" y="1698.0" font-size="25" text-anchor="middle" >8</text>
<line x1="2062.2" y1="1665.5" x2="2062.2" y2="1670.5" stroke="#868686" stroke-width="1.6"/>
<text x="2062.2" y="1698.0" font-size="25" text-anchor="middle" >12</text>
<line x1="1510" y1="1205.3" x2="1515" y2="1205.3" stroke="#868686" stroke-width="1.6"/>
<text x="1505.5" y="1214.3" font-size="25" text-anchor="end" >0.90</text>
<line x1="1510" y1="1337.1" x2="1515" y2="1337.1" stroke="#868686" stroke-width="1.6"/>
<text x="1505.5" y="1346.1" font-size="25" text-anchor="end" >0.75</text>
<line x1="1510" y1="1468.4" x2="1515" y2="1468.4" stroke="#868686" stroke-width="1.6"/>
<text x="1505.5" y="1477.4" font-size="25" text-anchor="end" >0.60</text>
<line x1="1510" y1="1600.2" x2="1515" y2="1600.2" stroke="#868686" stroke-width="1.6"/>
<text x="1505.5" y="1609.2" font-size="25" text-anchor="end" >0.45</text>
<path d="M1545.1,1617.1V1639.1M1541.3,1617.1H1548.8999999999999M1541.3,1639.1H1548.8999999999999M1647.8,1569.8V1589.8M1644.0,1569.8H1651.6M1644.0,1589.8H1651.6M1855.4,1504.0V1536.0M1851.6000000000001,1504.0H1859.2M1851.6000000000001,1536.0H1859.2" fill="none" stroke="#a6d854" stroke-width="2.3" opacity="0.85"/>
<path d="M1545.1,1520.6V1550.6M1541.3,1520.6H1548.8999999999999M1541.3,1550.6H1548.8999999999999M1647.8,1447.6V1509.6M1644.0,1447.6H1651.6M1644.0,1509.6H1651.6M1855.4,1404.7V1448.7M1851.6000000000001,1404.7H1859.2M1851.6000000000001,1448.7H1859.2" fill="none" stroke="#e78ac3" stroke-width="2.3" opacity="0.85"/>
<path d="M1545.1,1426.8V1446.8M1541.3,1426.8H1548.8999999999999M1541.3,1446.8H1548.8999999999999M1647.8,1410.3V1426.3M1644.0,1410.3H1651.6M1644.0,1426.3H1651.6M1855.4,1368.8V1388.8M1851.6000000000001,1368.8H1859.2M1851.6000000000001,1388.8H1859.2M2062.2,1342.7V1370.7M2058.3999999999996,1342.7H2066.0M2058.3999999999996,1370.7H2066.0" fill="none" stroke="#8da0cb" stroke-width="2.3" opacity="0.85"/>
<path d="M1545.1,1340.9V1370.9M1541.3,1340.9H1548.8999999999999M1541.3,1370.9H1548.8999999999999M1647.8,1318.1V1340.1M1644.0,1318.1H1651.6M1644.0,1340.1H1651.6M1855.4,1297.0V1335.0M1851.6000000000001,1297.0H1859.2M1851.6000000000001,1335.0H1859.2M2062.2,1297.7V1314.7M2058.3999999999996,1297.7H2066.0M2058.3999999999996,1314.7H2066.0" fill="none" stroke="#66c2a5" stroke-width="2.3" opacity="0.85"/>
<path d="M1545.1,1388.4V1408.4M1541.3,1388.4H1548.8999999999999M1541.3,1408.4H1548.8999999999999M1647.8,1369.1V1397.1M1644.0,1369.1H1651.6M1644.0,1397.1H1651.6M1855.4,1317.3V1336.5M1851.6000000000001,1317.3H1859.2M1851.6000000000001,1336.5H1859.2M2062.2,1287.4V1297.4M2058.3999999999996,1287.4H2066.0M2058.3999999999996,1297.4H2066.0" fill="none" stroke="#fc8d62" stroke-width="2.3" opacity="0.85"/>
<polyline points="1545.1,1628.1 1647.8,1579.8 1855.4,1520.0" fill="none" stroke="#a6d854" stroke-width="4" stroke-linejoin="round"/>
<circle cx="1545.1" cy="1628.1" r="5" fill="#a6d854"/>
<circle cx="1647.8" cy="1579.8" r="5" fill="#a6d854"/>
<circle cx="1855.4" cy="1520.0" r="5" fill="#a6d854"/>
<polyline points="1545.1,1535.6 1647.8,1478.6 1855.4,1426.7" fill="none" stroke="#e78ac3" stroke-width="4" stroke-linejoin="round"/>
<circle cx="1545.1" cy="1535.6" r="5" fill="#e78ac3"/>
<circle cx="1647.8" cy="1478.6" r="5" fill="#e78ac3"/>
<circle cx="1855.4" cy="1426.7" r="5" fill="#e78ac3"/>
<polyline points="1545.1,1436.8 1647.8,1418.3 1855.4,1378.8 2062.2,1356.7" fill="none" stroke="#8da0cb" stroke-width="4" stroke-linejoin="round"/>
<circle cx="1545.1" cy="1436.8" r="5" fill="#8da0cb"/>
<circle cx="1647.8" cy="1418.3" r="5" fill="#8da0cb"/>
<circle cx="1855.4" cy="1378.8" r="5" fill="#8da0cb"/>
<circle cx="2062.2" cy="1356.7" r="5" fill="#8da0cb"/>
<polyline points="1545.1,1355.9 1647.8,1329.1 1855.4,1316.0 2062.2,1306.2" fill="none" stroke="#66c2a5" stroke-width="4" stroke-linejoin="round"/>
<circle cx="1545.1" cy="1355.9" r="5" fill="#66c2a5"/>
<circle cx="1647.8" cy="1329.1" r="5" fill="#66c2a5"/>
<circle cx="1855.4" cy="1316.0" r="5" fill="#66c2a5"/>
<circle cx="2062.2" cy="1306.2" r="5" fill="#66c2a5"/>
<polyline points="1545.1,1398.4 1647.8,1383.1 1855.4,1326.9 2062.2,1292.4" fill="none" stroke="#fc8d62" stroke-width="4" stroke-linejoin="round"/>
<circle cx="1545.1" cy="1398.4" r="5" fill="#fc8d62"/>
<circle cx="1647.8" cy="1383.1" r="5" fill="#fc8d62"/>
<circle cx="1855.4" cy="1326.9" r="5" fill="#fc8d62"/>
<circle cx="2062.2" cy="1292.4" r="5" fill="#fc8d62"/>
<text x="1796" y="1729.7" font-size="25.3" text-anchor="middle">Printing speed U/(mm·s<tspan font-size="60%" dy="-0.55em">-1</tspan><tspan dy="0.33em">)</tspan></text>
<text transform="translate(1443.2 1414.0) rotate(-90)" font-size="25" text-anchor="middle" stroke="#000" stroke-width="0.55" stroke-linejoin="round" >Aspect ratio f</text>
<text x="1029.6" y="1767.8" font-size="25.25" text-anchor="start" >w/v% of PF-127/H-HPMC</text>
<line x1="1337.3" y1="1760.3" x2="1358.3" y2="1760.3" stroke="#66c2a5" stroke-width="3.2"/>
<circle cx="1347.8" cy="1760.3" r="4.6" fill="#66c2a5"/>
<text x="1369.6" y="1767.8" font-size="25" text-anchor="start" >10/2.5</text>
<line x1="1482.9" y1="1760.3" x2="1503.9" y2="1760.3" stroke="#fc8d62" stroke-width="3.2"/>
<circle cx="1493.4" cy="1760.3" r="4.6" fill="#fc8d62"/>
<text x="1515.0" y="1767.8" font-size="25" text-anchor="start" >11/3</text>
<line x1="1605.3" y1="1760.3" x2="1626.3" y2="1760.3" stroke="#8da0cb" stroke-width="3.2"/>
<circle cx="1615.8" cy="1760.3" r="4.6" fill="#8da0cb"/>
<text x="1633.0" y="1767.8" font-size="25" text-anchor="start" >10/3</text>
<line x1="1726.8" y1="1760.3" x2="1747.8" y2="1760.3" stroke="#e78ac3" stroke-width="3.2"/>
<circle cx="1737.3" cy="1760.3" r="4.6" fill="#e78ac3"/>
<text x="1758.5" y="1767.8" font-size="25" text-anchor="start" >9/3</text>
<line x1="1833.8" y1="1760.3" x2="1854.8" y2="1760.3" stroke="#a6d854" stroke-width="3.2"/>
<circle cx="1844.3" cy="1760.3" r="4.6" fill="#a6d854"/>
<text x="1860.8" y="1767.8" font-size="25" text-anchor="start" >10/3.5</text>
</g>
</svg>
</body></html>
